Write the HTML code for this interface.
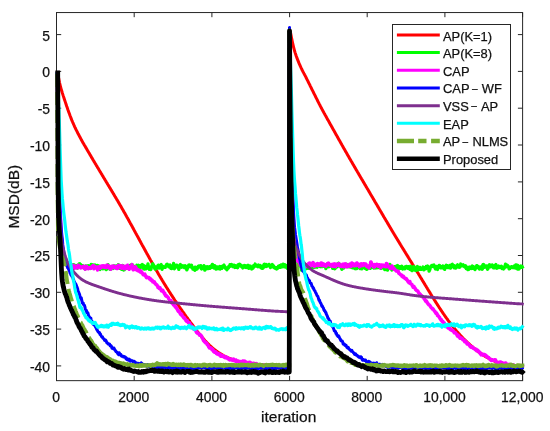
<!DOCTYPE html>
<html><head><meta charset="utf-8"><title>MSD learning curves</title>
<style>
html,body{margin:0;padding:0;background:#fff;}
svg{display:block}
text{font-family:"Liberation Sans",Arial,Helvetica,sans-serif;font-size:13.9px;fill:#111;stroke:#111;stroke-width:0.25px}
</style></head><body>
<svg width="550" height="431" viewBox="0 0 550 431">
<rect width="550" height="431" fill="#fff"/>
<g fill="none" stroke="#262626" stroke-width="1">
<rect x="56.5" y="12.55" width="466.1" height="368.1"/>
<path d="M56.5 380.6V375.9M56.5 12.55V17.2"/><path d="M134.2 380.6V375.9M134.2 12.55V17.2"/><path d="M211.9 380.6V375.9M211.9 12.55V17.2"/><path d="M289.6 380.6V375.9M289.6 12.55V17.2"/><path d="M367.2 380.6V375.9M367.2 12.55V17.2"/><path d="M444.9 380.6V375.9M444.9 12.55V17.2"/><path d="M522.6 380.6V375.9M522.6 12.55V17.2"/><path d="M56.5 365.9H61.2M522.6 365.9H517.9"/><path d="M56.5 329.1H61.2M522.6 329.1H517.9"/><path d="M56.5 292.3H61.2M522.6 292.3H517.9"/><path d="M56.5 255.5H61.2M522.6 255.5H517.9"/><path d="M56.5 218.7H61.2M522.6 218.7H517.9"/><path d="M56.5 181.9H61.2M522.6 181.9H517.9"/><path d="M56.5 145.0H61.2M522.6 145.0H517.9"/><path d="M56.5 108.2H61.2M522.6 108.2H517.9"/><path d="M56.5 71.4H61.2M522.6 71.4H517.9"/><path d="M56.5 34.6H61.2M522.6 34.6H517.9"/>
</g>
<g><text x="56.1" y="401.7" text-anchor="middle">0</text><text x="133.8" y="401.7" text-anchor="middle">2000</text><text x="211.5" y="401.7" text-anchor="middle">4000</text><text x="289.2" y="401.7" text-anchor="middle">6000</text><text x="366.8" y="401.7" text-anchor="middle">8000</text><text x="444.5" y="401.7" text-anchor="middle">10,000</text><text x="522.2" y="401.7" text-anchor="middle">12,000</text></g>
<g><text x="50" y="371.8" text-anchor="end">-40</text><text x="50" y="335.0" text-anchor="end">-35</text><text x="50" y="298.2" text-anchor="end">-30</text><text x="50" y="261.4" text-anchor="end">-25</text><text x="50" y="224.6" text-anchor="end">-20</text><text x="50" y="187.8" text-anchor="end">-15</text><text x="50" y="150.9" text-anchor="end">-10</text><text x="50" y="114.1" text-anchor="end">-5</text><text x="50" y="77.3" text-anchor="end">0</text><text x="50" y="40.5" text-anchor="end">5</text></g>
<text x="288.7" y="422" text-anchor="middle" style="font-size:15.5px">iteration</text>
<text transform="translate(19.2 196.7) rotate(-90)" text-anchor="middle" style="font-size:15.5px">MSD(dB)</text>
<g>
<path d="M57.5 74.0L57.9 75.3L58.3 76.8L58.7 78.4L59.1 80.5L59.5 82.6L59.9 84.2L60.3 85.8L60.7 87.3L61.1 88.8L61.5 90.2L61.9 91.5L62.3 92.9L62.7 94.1L63.1 95.4L63.5 96.6L63.9 97.8L64.3 99.0L64.7 100.2L65.1 101.4L65.5 102.6L65.9 103.8L66.3 105.0L66.7 106.2L67.1 107.3L67.5 108.5L67.9 109.7L68.3 110.8L68.7 111.9L69.1 113.0L69.5 114.1L69.9 115.2L70.3 116.3L70.7 117.3L71.1 118.4L71.5 119.4L71.9 120.4L72.3 121.3L72.7 122.3L73.1 123.2L73.5 124.1L73.9 125.0L74.3 125.9L74.7 126.8L75.1 127.6L75.5 128.5L75.9 129.3L76.3 130.1L76.7 130.9L77.1 131.7L77.5 132.5L77.9 133.3L78.3 134.1L78.7 134.8L79.1 135.6L79.5 136.3L79.9 137.1L80.3 137.8L80.7 138.6L81.1 139.3L81.5 140.1L81.9 140.8L82.3 141.5L82.7 142.2L83.1 142.9L83.5 143.6L83.9 144.3L84.3 145.0L84.7 145.6L85.1 146.3L85.5 147.0L85.9 147.7L86.3 148.3L86.7 149.0L87.1 149.7L87.5 150.4L87.9 151.1L88.3 151.7L88.7 152.4L89.1 153.1L89.5 153.8L89.9 154.5L90.3 155.2L90.7 155.8L91.1 156.5L91.5 157.2L91.9 157.9L92.3 158.5L92.7 159.2L93.1 159.9L93.5 160.6L93.9 161.2L94.3 161.9L94.7 162.6L95.1 163.3L95.5 163.9L95.9 164.6L96.3 165.3L96.7 165.9L97.1 166.6L97.5 167.3L97.9 167.9L98.3 168.6L98.7 169.3L99.1 170.0L99.5 170.6L99.9 171.3L100.3 171.9L100.7 172.6L101.1 173.3L101.5 173.9L101.9 174.6L102.3 175.3L102.7 175.9L103.1 176.6L103.5 177.3L103.9 177.9L104.3 178.6L104.7 179.2L105.1 179.9L105.5 180.6L105.9 181.2L106.3 181.9L106.7 182.6L107.1 183.2L107.5 183.9L107.9 184.6L108.3 185.2L108.7 185.9L109.1 186.5L109.5 187.2L109.9 187.9L110.3 188.5L110.7 189.2L111.1 189.9L111.5 190.5L111.9 191.2L112.3 191.9L112.7 192.5L113.1 193.2L113.5 193.9L113.9 194.5L114.3 195.2L114.7 195.9L115.1 196.6L115.5 197.2L115.9 197.9L116.3 198.6L116.7 199.3L117.1 199.9L117.5 200.6L117.9 201.3L118.3 202.0L118.7 202.7L119.1 203.3L119.5 204.0L119.9 204.7L120.3 205.4L120.7 206.1L121.1 206.8L121.5 207.5L121.9 208.2L122.3 208.9L122.7 209.6L123.1 210.3L123.5 211.0L123.9 211.7L124.3 212.4L124.7 213.1L125.1 213.8L125.5 214.5L125.9 215.2L126.3 215.9L126.7 216.7L127.1 217.4L127.5 218.1L127.9 218.8L128.3 219.5L128.7 220.3L129.1 221.0L129.5 221.7L129.9 222.4L130.3 223.2L130.7 223.9L131.1 224.6L131.5 225.3L131.9 226.1L132.3 226.8L132.7 227.5L133.1 228.3L133.5 229.0L133.9 229.7L134.3 230.5L134.7 231.2L135.1 231.9L135.5 232.7L135.9 233.4L136.3 234.1L136.7 234.9L137.1 235.6L137.5 236.3L137.9 237.1L138.3 237.8L138.7 238.5L139.1 239.3L139.5 240.0L139.9 240.8L140.3 241.5L140.7 242.2L141.1 243.0L141.5 243.7L141.9 244.4L142.3 245.2L142.7 245.9L143.1 246.6L143.5 247.3L143.9 248.1L144.3 248.8L144.7 249.5L145.1 250.3L145.5 251.0L145.9 251.7L146.3 252.4L146.7 253.2L147.1 253.9L147.5 254.6L147.9 255.3L148.3 256.1L148.7 256.8L149.1 257.5L149.5 258.2L149.9 258.9L150.3 259.7L150.7 260.4L151.1 261.1L151.5 261.8L151.9 262.5L152.3 263.2L152.7 263.9L153.1 264.6L153.5 265.4L153.9 266.1L154.3 266.8L154.7 267.5L155.1 268.2L155.5 268.9L155.9 269.6L156.3 270.2L156.7 270.9L157.1 271.6L157.5 272.3L157.9 273.0L158.3 273.7L158.7 274.4L159.1 275.1L159.5 275.7L159.9 276.4L160.3 277.1L160.7 277.8L161.1 278.4L161.5 279.1L161.9 279.8L162.3 280.4L162.7 281.1L163.1 281.7L163.5 282.4L163.9 283.1L164.3 283.7L164.7 284.4L165.1 285.0L165.5 285.7L165.9 286.3L166.3 286.9L166.7 287.6L167.1 288.2L167.5 288.9L167.9 289.5L168.3 290.1L168.7 290.8L169.1 291.4L169.5 292.0L169.9 292.6L170.3 293.2L170.7 293.9L171.1 294.5L171.5 295.1L171.9 295.7L172.3 296.3L172.7 296.9L173.1 297.5L173.5 298.1L173.9 298.8L174.3 299.4L174.7 300.0L175.1 300.6L175.5 301.1L175.9 301.7L176.3 302.3L176.7 302.9L177.1 303.5L177.5 304.1L177.9 304.7L178.3 305.3L178.7 305.9L179.1 306.4L179.5 307.0L179.9 307.6L180.3 308.2L180.7 308.7L181.1 309.3L181.5 309.9L181.9 310.5L182.3 311.0L182.7 311.6L183.1 312.1L183.5 312.7L183.9 313.3L184.3 313.8L184.7 314.4L185.1 314.9L185.5 315.5L185.9 316.1L186.3 316.6L186.7 317.2L187.1 317.7L187.5 318.3L187.9 318.8L188.3 319.4L188.7 319.9L189.1 320.4L189.5 321.0L189.9 321.5L190.3 322.1L190.7 322.6L191.1 323.1L191.5 323.7L191.9 324.2L192.3 324.8L192.7 325.3L193.1 325.8L193.5 326.4L193.9 326.9L194.3 327.4L194.7 327.9L195.1 328.5L195.5 329.0L195.9 329.5L196.3 330.0L196.7 330.6L197.1 331.1L197.5 331.6L197.9 332.1L198.3 332.6L198.7 333.1L199.1 333.6L199.5 334.1L199.9 334.6L200.3 335.1L200.7 335.6L201.1 336.1L201.5 336.5L201.9 337.0L202.3 337.5L202.7 337.9L203.1 338.4L203.5 338.9L203.9 339.3L204.3 339.8L204.7 340.2L205.1 340.7L205.5 341.1L205.9 341.5L206.3 341.9L206.7 342.4L207.1 342.8L207.5 343.2L207.9 343.6L208.3 344.0L208.7 344.4L209.1 344.8L209.5 345.2L209.9 345.6L210.3 345.9L210.7 346.3L211.1 346.7L211.5 347.0L211.9 347.4L212.3 347.7L212.7 348.1L213.1 348.4L213.5 348.7L213.9 349.1L214.3 349.4L214.7 349.7L215.1 350.0L215.5 350.3L215.9 350.6L216.3 350.9L216.7 351.2L217.1 351.5L217.5 351.8L217.9 352.1L218.3 352.4L218.7 352.6L219.1 352.9L219.5 353.2L219.9 353.4L220.3 353.7L220.7 353.9L221.1 354.2L221.5 354.4L221.9 354.7L222.3 354.9L222.7 355.1L223.1 355.3L223.5 355.6L223.9 355.8L224.3 356.0L224.7 356.2L225.1 356.4L225.5 356.6L225.9 356.8L226.3 357.0L226.7 357.2L227.1 357.4L227.5 357.6L227.9 357.7L228.3 357.9L228.7 358.1L229.1 358.3L229.5 358.4L229.9 358.6L230.3 358.8L230.7 358.9L231.1 359.1L231.5 359.2L231.9 359.4L232.3 359.5L232.7 359.7L233.1 359.8L233.5 360.0L233.9 360.1L234.3 360.2L234.7 360.4L235.1 360.5L235.5 360.6L235.9 360.8L236.3 360.9L236.7 361.0L237.1 361.1L237.5 361.2L237.9 361.3L238.3 361.5L238.7 361.6L239.1 361.7L239.5 361.8L239.9 361.9L240.3 362.0L240.7 362.1L241.1 362.2L241.5 362.3L241.9 362.4L242.3 362.4L242.7 362.5L243.1 362.6L243.5 362.7L243.9 362.8L244.3 362.9L244.7 362.9L245.1 363.0L245.5 363.1L245.9 363.2L246.3 363.2L246.7 363.3L247.1 363.4L247.5 363.4L247.9 363.5L248.3 363.6L248.7 363.6L249.1 363.7L249.5 363.7L249.9 363.8L250.3 363.9L250.7 363.9L251.1 364.0L251.5 364.0L251.9 364.0L252.3 364.1L252.7 364.1L253.1 364.2L253.5 364.2L253.9 364.3L254.3 364.3L254.7 364.3L255.1 364.4L255.5 364.4L255.9 364.4L256.3 364.5L256.7 364.5L257.1 364.5L257.5 364.6L257.9 364.6L258.3 364.6L258.7 364.6L259.1 364.7L259.5 364.7L259.9 364.7L260.3 364.7L260.7 364.8L261.1 364.8L261.5 364.8L261.9 364.8L262.3 364.8L262.7 364.9L263.1 364.9L263.5 364.9L263.9 364.9L264.3 364.9L264.7 365.0L265.1 365.0L265.5 365.0L265.9 365.0L266.3 365.0L266.7 365.0L267.1 365.0L267.5 365.1L267.9 365.1L268.3 365.1L268.7 365.1L269.1 365.1L269.5 365.1L269.9 365.1L270.3 365.2L270.7 365.2L271.1 365.2L271.5 365.2L271.9 365.2L272.3 365.2L272.7 365.2L273.1 365.2L273.5 365.2L273.9 365.3L274.3 365.3L274.7 365.3L275.1 365.3L275.5 365.3L275.9 365.3L276.3 365.3L276.7 365.3L277.1 365.3L277.5 365.3L277.9 365.3L278.3 365.4L278.7 365.4L279.1 365.4L279.5 365.4L279.9 365.4L280.3 365.4L280.7 365.4L281.1 365.4L281.5 365.4L281.9 365.4L282.3 365.4L282.7 365.4L283.1 365.4L283.5 365.4L283.9 365.4L284.3 365.4L284.7 365.4L285.1 365.4L285.5 365.5L285.9 365.5L286.3 365.5L286.7 365.5L287.1 365.5L287.5 365.5L287.9 365.5L288.3 365.5L288.7 365.5L289.1 365.5L289.5 365.5L289.5 30.0L289.9 30.8L290.3 31.9L290.7 33.4L291.1 35.6L291.5 37.7L291.9 39.6L292.3 41.5L292.7 43.3L293.1 45.1L293.5 46.8L293.9 48.4L294.3 49.9L294.7 51.3L295.1 52.6L295.5 53.8L295.9 55.0L296.3 56.2L296.7 57.3L297.1 58.4L297.5 59.4L297.9 60.4L298.3 61.4L298.7 62.4L299.1 63.4L299.5 64.3L299.9 65.2L300.3 66.1L300.7 67.0L301.1 67.9L301.5 68.7L301.9 69.5L302.3 70.3L302.7 71.1L303.1 71.9L303.5 72.6L303.9 73.4L304.3 74.1L304.7 74.9L305.1 75.6L305.5 76.4L305.9 77.2L306.3 78.0L306.7 78.8L307.1 79.6L307.5 80.4L307.9 81.2L308.3 82.0L308.7 82.8L309.1 83.6L309.5 84.4L309.9 85.2L310.3 86.1L310.7 86.9L311.1 87.7L311.5 88.5L311.9 89.3L312.3 90.1L312.7 90.9L313.1 91.7L313.5 92.5L313.9 93.3L314.3 94.1L314.7 94.9L315.1 95.7L315.5 96.5L315.9 97.3L316.3 98.1L316.7 98.9L317.1 99.7L317.5 100.5L317.9 101.3L318.3 102.1L318.7 102.9L319.1 103.7L319.5 104.4L319.9 105.2L320.3 106.0L320.7 106.7L321.1 107.5L321.5 108.2L321.9 109.0L322.3 109.7L322.7 110.5L323.1 111.2L323.5 111.9L323.9 112.7L324.3 113.4L324.7 114.1L325.1 114.9L325.5 115.6L325.9 116.3L326.3 117.0L326.7 117.7L327.1 118.5L327.5 119.2L327.9 119.9L328.3 120.6L328.7 121.3L329.1 122.0L329.5 122.8L329.9 123.5L330.3 124.2L330.7 124.9L331.1 125.6L331.5 126.3L331.9 127.1L332.3 127.8L332.7 128.5L333.1 129.2L333.5 129.9L333.9 130.6L334.3 131.3L334.7 132.1L335.1 132.8L335.5 133.5L335.9 134.2L336.3 134.9L336.7 135.6L337.1 136.3L337.5 137.1L337.9 137.8L338.3 138.5L338.7 139.2L339.1 139.9L339.5 140.6L339.9 141.3L340.3 142.0L340.7 142.7L341.1 143.4L341.5 144.1L341.9 144.9L342.3 145.6L342.7 146.3L343.1 147.0L343.5 147.7L343.9 148.4L344.3 149.1L344.7 149.8L345.1 150.5L345.5 151.2L345.9 151.9L346.3 152.6L346.7 153.3L347.1 154.0L347.5 154.7L347.9 155.4L348.3 156.1L348.7 156.8L349.1 157.5L349.5 158.2L349.9 158.9L350.3 159.6L350.7 160.3L351.1 161.0L351.5 161.6L351.9 162.3L352.3 163.0L352.7 163.7L353.1 164.4L353.5 165.1L353.9 165.8L354.3 166.5L354.7 167.2L355.1 167.8L355.5 168.5L355.9 169.2L356.3 169.9L356.7 170.6L357.1 171.3L357.5 172.0L357.9 172.6L358.3 173.3L358.7 174.0L359.1 174.7L359.5 175.4L359.9 176.0L360.3 176.7L360.7 177.4L361.1 178.1L361.5 178.8L361.9 179.4L362.3 180.1L362.7 180.8L363.1 181.5L363.5 182.2L363.9 182.8L364.3 183.5L364.7 184.2L365.1 184.9L365.5 185.5L365.9 186.2L366.3 186.9L366.7 187.6L367.1 188.3L367.5 188.9L367.9 189.6L368.3 190.3L368.7 191.0L369.1 191.7L369.5 192.3L369.9 193.0L370.3 193.7L370.7 194.4L371.1 195.1L371.5 195.7L371.9 196.4L372.3 197.1L372.7 197.8L373.1 198.5L373.5 199.2L373.9 199.8L374.3 200.5L374.7 201.2L375.1 201.9L375.5 202.6L375.9 203.2L376.3 203.9L376.7 204.6L377.1 205.3L377.5 206.0L377.9 206.7L378.3 207.3L378.7 208.0L379.1 208.7L379.5 209.4L379.9 210.1L380.3 210.7L380.7 211.4L381.1 212.1L381.5 212.8L381.9 213.5L382.3 214.2L382.7 214.8L383.1 215.5L383.5 216.2L383.9 216.9L384.3 217.6L384.7 218.2L385.1 218.9L385.5 219.6L385.9 220.3L386.3 220.9L386.7 221.6L387.1 222.3L387.5 223.0L387.9 223.7L388.3 224.3L388.7 225.0L389.1 225.7L389.5 226.4L389.9 227.0L390.3 227.7L390.7 228.4L391.1 229.0L391.5 229.7L391.9 230.4L392.3 231.1L392.7 231.7L393.1 232.4L393.5 233.1L393.9 233.7L394.3 234.4L394.7 235.1L395.1 235.7L395.5 236.4L395.9 237.1L396.3 237.7L396.7 238.4L397.1 239.0L397.5 239.7L397.9 240.4L398.3 241.0L398.7 241.7L399.1 242.3L399.5 243.0L399.9 243.7L400.3 244.3L400.7 245.0L401.1 245.6L401.5 246.3L401.9 246.9L402.3 247.6L402.7 248.2L403.1 248.9L403.5 249.5L403.9 250.2L404.3 250.8L404.7 251.5L405.1 252.1L405.5 252.8L405.9 253.4L406.3 254.1L406.7 254.7L407.1 255.4L407.5 256.0L407.9 256.7L408.3 257.3L408.7 258.0L409.1 258.6L409.5 259.3L409.9 259.9L410.3 260.6L410.7 261.2L411.1 261.9L411.5 262.5L411.9 263.2L412.3 263.8L412.7 264.5L413.1 265.1L413.5 265.8L413.9 266.4L414.3 267.1L414.7 267.7L415.1 268.4L415.5 269.0L415.9 269.7L416.3 270.3L416.7 271.0L417.1 271.6L417.5 272.3L417.9 272.9L418.3 273.6L418.7 274.3L419.1 274.9L419.5 275.6L419.9 276.2L420.3 276.9L420.7 277.6L421.1 278.2L421.5 278.9L421.9 279.5L422.3 280.2L422.7 280.9L423.1 281.5L423.5 282.2L423.9 282.8L424.3 283.5L424.7 284.2L425.1 284.8L425.5 285.5L425.9 286.1L426.3 286.8L426.7 287.4L427.1 288.1L427.5 288.8L427.9 289.4L428.3 290.1L428.7 290.7L429.1 291.4L429.5 292.0L429.9 292.7L430.3 293.3L430.7 294.0L431.1 294.6L431.5 295.3L431.9 295.9L432.3 296.6L432.7 297.2L433.1 297.8L433.5 298.5L433.9 299.1L434.3 299.8L434.7 300.4L435.1 301.0L435.5 301.7L435.9 302.3L436.3 302.9L436.7 303.5L437.1 304.2L437.5 304.8L437.9 305.4L438.3 306.0L438.7 306.6L439.1 307.3L439.5 307.9L439.9 308.5L440.3 309.1L440.7 309.7L441.1 310.3L441.5 310.9L441.9 311.5L442.3 312.1L442.7 312.7L443.1 313.3L443.5 313.9L443.9 314.4L444.3 315.0L444.7 315.6L445.1 316.2L445.5 316.7L445.9 317.3L446.3 317.9L446.7 318.4L447.1 319.0L447.5 319.5L447.9 320.1L448.3 320.6L448.7 321.2L449.1 321.7L449.5 322.2L449.9 322.8L450.3 323.3L450.7 323.8L451.1 324.3L451.5 324.8L451.9 325.3L452.3 325.9L452.7 326.4L453.1 326.9L453.5 327.3L453.9 327.8L454.3 328.3L454.7 328.8L455.1 329.3L455.5 329.8L455.9 330.2L456.3 330.7L456.7 331.2L457.1 331.6L457.5 332.1L457.9 332.5L458.3 333.0L458.7 333.4L459.1 333.9L459.5 334.3L459.9 334.8L460.3 335.2L460.7 335.6L461.1 336.1L461.5 336.5L461.9 336.9L462.3 337.3L462.7 337.7L463.1 338.2L463.5 338.6L463.9 339.0L464.3 339.4L464.7 339.8L465.1 340.2L465.5 340.6L465.9 341.0L466.3 341.3L466.7 341.7L467.1 342.1L467.5 342.5L467.9 342.9L468.3 343.2L468.7 343.6L469.1 344.0L469.5 344.3L469.9 344.7L470.3 345.1L470.7 345.4L471.1 345.8L471.5 346.1L471.9 346.5L472.3 346.8L472.7 347.2L473.1 347.5L473.5 347.8L473.9 348.2L474.3 348.5L474.7 348.8L475.1 349.2L475.5 349.5L475.9 349.8L476.3 350.1L476.7 350.4L477.1 350.7L477.5 351.1L477.9 351.4L478.3 351.7L478.7 352.0L479.1 352.2L479.5 352.5L479.9 352.8L480.3 353.1L480.7 353.4L481.1 353.7L481.5 353.9L481.9 354.2L482.3 354.5L482.7 354.7L483.1 355.0L483.5 355.3L483.9 355.5L484.3 355.8L484.7 356.0L485.1 356.3L485.5 356.5L485.9 356.8L486.3 357.0L486.7 357.2L487.1 357.5L487.5 357.7L487.9 357.9L488.3 358.1L488.7 358.4L489.1 358.6L489.5 358.8L489.9 359.0L490.3 359.2L490.7 359.4L491.1 359.6L491.5 359.8L491.9 360.0L492.3 360.2L492.7 360.4L493.1 360.5L493.5 360.7L493.9 360.9L494.3 361.1L494.7 361.2L495.1 361.4L495.5 361.6L495.9 361.7L496.3 361.9L496.7 362.0L497.1 362.2L497.5 362.3L497.9 362.5L498.3 362.6L498.7 362.8L499.1 362.9L499.5 363.0L499.9 363.2L500.3 363.3L500.7 363.4L501.1 363.5L501.5 363.6L501.9 363.8L502.3 363.9L502.7 364.0L503.1 364.1L503.5 364.2L503.9 364.3L504.3 364.4L504.7 364.5L505.1 364.6L505.5 364.6L505.9 364.7L506.3 364.8L506.7 364.9L507.1 365.0L507.5 365.0L507.9 365.1L508.3 365.2L508.7 365.2L509.1 365.3L509.5 365.4L509.9 365.4L510.3 365.5L510.7 365.5L511.1 365.6L511.5 365.6L511.9 365.7L512.3 365.7L512.7 365.8L513.1 365.8L513.5 365.9L513.9 365.9L514.3 365.9L514.7 366.0L515.1 366.0L515.5 366.0L515.9 366.1L516.3 366.1L516.7 366.1L517.1 366.1L517.5 366.2L517.9 366.2L518.3 366.2L518.7 366.2L519.1 366.3L519.5 366.3L519.9 366.3L520.3 366.3L520.7 366.3L521.1 366.3L521.5 366.3L521.9 366.4L522.3 366.4" fill="none" stroke="#ff0000" stroke-width="3.0" stroke-linejoin="round" stroke-linecap="square"/>
<path d="M57.2 74.0L57.6 116.7L58.0 149.9L58.4 170.0L58.8 185.4L59.2 199.0L59.6 210.6L60.0 220.4L60.4 227.5L60.8 234.4L61.2 238.7L61.6 243.7L62.0 250.4L62.4 251.3L62.8 254.9L63.2 258.3L63.6 260.1L64.0 261.0L64.4 262.5L64.8 263.7L65.2 264.6L65.6 263.5L66.0 264.9L66.4 264.9L66.8 265.4L67.2 266.3L67.6 267.1L68.0 267.8L68.4 266.6L68.8 267.6L69.2 268.3L69.6 268.7L70.0 269.2L70.4 267.7L70.8 267.0L71.2 267.7L71.6 265.8L72.0 266.6L72.4 266.1L72.8 266.0L73.2 264.6L73.6 264.7L74.0 265.5L74.4 267.0L74.8 267.8L75.2 267.1L75.6 266.5L76.0 265.5L76.4 266.3L76.8 266.0L77.2 266.8L77.6 268.2L78.0 267.2L78.4 265.1L78.8 264.6L79.2 263.9L79.6 263.8L80.0 266.2L80.4 266.5L80.8 264.7L81.2 266.1L81.6 267.4L82.0 266.5L82.4 265.7L82.8 265.7L83.2 266.2L83.6 267.0L84.0 267.8L84.4 268.3L84.8 268.7L85.2 269.0L85.6 268.4L86.0 266.0L86.4 266.2L86.8 266.7L87.2 266.3L87.6 267.3L88.0 266.6L88.4 265.8L88.8 267.7L89.2 267.8L89.6 267.5L90.0 268.0L90.4 268.4L90.8 267.9L91.2 264.5L91.6 264.8L92.0 265.1L92.4 264.7L92.8 265.8L93.2 267.3L93.6 266.4L94.0 265.2L94.4 267.9L94.8 266.5L95.2 265.0L95.6 265.9L96.0 266.4L96.4 265.6L96.8 266.8L97.2 266.1L97.6 265.4L98.0 266.1L98.4 267.0L98.8 266.1L99.2 266.6L99.6 266.5L100.0 269.5L100.4 267.3L100.8 268.5L101.2 267.6L101.6 267.1L102.0 267.7L102.4 268.2L102.8 268.8L103.2 268.2L103.6 266.9L104.0 266.4L104.4 267.2L104.8 267.8L105.2 268.8L105.6 268.3L106.0 268.9L106.4 269.6L106.8 268.4L107.2 266.1L107.6 265.3L108.0 264.7L108.4 267.6L108.8 266.5L109.2 268.0L109.6 268.2L110.0 269.4L110.4 269.4L110.8 268.2L111.2 267.5L111.6 267.5L112.0 267.4L112.4 266.7L112.8 266.9L113.2 268.5L113.6 266.0L114.0 266.8L114.4 265.9L114.8 266.6L115.2 267.7L115.6 267.3L116.0 268.0L116.4 266.0L116.8 267.7L117.2 266.8L117.6 267.6L118.0 267.6L118.4 264.7L118.8 265.1L119.2 266.4L119.6 268.4L120.0 268.1L120.4 267.9L120.8 266.1L121.2 268.0L121.6 269.4L122.0 268.2L122.4 267.4L122.8 265.5L123.2 267.1L123.6 270.0L124.0 269.4L124.4 269.6L124.8 268.9L125.2 267.2L125.6 268.7L126.0 266.7L126.4 266.8L126.8 267.4L127.2 268.4L127.6 268.3L128.0 268.4L128.4 267.1L128.8 266.0L129.2 266.7L129.6 266.5L130.0 265.6L130.4 265.2L130.8 265.9L131.2 264.9L131.6 264.8L132.0 264.4L132.4 266.0L132.8 267.1L133.2 269.3L133.6 266.8L134.0 266.3L134.4 267.7L134.8 267.2L135.2 266.9L135.6 268.9L136.0 267.6L136.4 266.2L136.8 265.3L137.2 266.6L137.6 267.1L138.0 265.7L138.4 265.3L138.8 266.7L139.2 267.5L139.6 266.6L140.0 267.5L140.4 267.8L140.8 265.5L141.2 265.9L141.6 266.9L142.0 266.3L142.4 264.5L142.8 265.5L143.2 267.0L143.6 268.6L144.0 265.6L144.4 269.2L144.8 266.9L145.2 267.9L145.6 268.7L146.0 268.8L146.4 267.9L146.8 266.2L147.2 267.1L147.6 266.1L148.0 263.8L148.4 268.2L148.8 268.1L149.2 269.3L149.6 267.1L150.0 268.5L150.4 269.3L150.8 269.6L151.2 268.2L151.6 266.3L152.0 266.3L152.4 264.3L152.8 263.8L153.2 265.4L153.6 265.2L154.0 266.0L154.4 266.4L154.8 268.7L155.2 269.1L155.6 268.0L156.0 268.7L156.4 267.2L156.8 266.8L157.2 267.8L157.6 266.0L158.0 266.2L158.4 265.1L158.8 266.0L159.2 268.1L159.6 266.7L160.0 267.0L160.4 265.9L160.8 265.2L161.2 264.6L161.6 267.2L162.0 269.3L162.4 268.4L162.8 266.8L163.2 267.3L163.6 266.6L164.0 267.4L164.4 267.3L164.8 267.2L165.2 267.4L165.6 266.4L166.0 266.2L166.4 264.6L166.8 265.1L167.2 264.3L167.6 265.3L168.0 265.0L168.4 266.0L168.8 266.9L169.2 265.3L169.6 265.2L170.0 265.0L170.4 266.7L170.8 268.4L171.2 268.5L171.6 267.3L172.0 268.5L172.4 266.0L172.8 267.9L173.2 266.5L173.6 263.5L174.0 267.8L174.4 268.8L174.8 266.6L175.2 266.9L175.6 266.6L176.0 266.7L176.4 265.1L176.8 265.1L177.2 266.3L177.6 266.6L178.0 267.8L178.4 267.2L178.8 269.4L179.2 267.3L179.6 267.3L180.0 265.1L180.4 264.6L180.8 267.2L181.2 266.1L181.6 267.2L182.0 267.0L182.4 265.8L182.8 265.9L183.2 265.8L183.6 265.8L184.0 267.2L184.4 267.7L184.8 266.7L185.2 265.8L185.6 266.6L186.0 266.5L186.4 267.7L186.8 269.9L187.2 269.1L187.6 267.8L188.0 267.0L188.4 265.8L188.8 265.1L189.2 264.9L189.6 265.2L190.0 265.5L190.4 266.9L190.8 266.3L191.2 266.2L191.6 265.2L192.0 267.7L192.4 267.7L192.8 269.0L193.2 268.7L193.6 269.3L194.0 267.9L194.4 268.1L194.8 270.3L195.2 267.2L195.6 268.4L196.0 269.4L196.4 268.4L196.8 268.4L197.2 268.9L197.6 267.2L198.0 267.4L198.4 266.2L198.8 265.8L199.2 265.8L199.6 266.2L200.0 266.8L200.4 267.4L200.8 265.7L201.2 268.5L201.6 269.0L202.0 268.7L202.4 267.6L202.8 267.1L203.2 267.7L203.6 267.9L204.0 265.7L204.4 267.1L204.8 270.2L205.2 266.6L205.6 268.0L206.0 267.9L206.4 267.5L206.8 268.7L207.2 266.7L207.6 267.0L208.0 268.6L208.4 267.6L208.8 266.9L209.2 267.2L209.6 266.7L210.0 268.4L210.4 266.7L210.8 267.7L211.2 266.0L211.6 267.4L212.0 267.1L212.4 264.3L212.8 265.7L213.2 265.2L213.6 265.7L214.0 268.1L214.4 266.4L214.8 265.7L215.2 267.9L215.6 267.7L216.0 269.1L216.4 268.6L216.8 266.9L217.2 266.9L217.6 268.3L218.0 268.7L218.4 268.0L218.8 267.5L219.2 267.2L219.6 266.6L220.0 269.0L220.4 268.1L220.8 266.6L221.2 266.4L221.6 267.7L222.0 268.3L222.4 267.8L222.8 266.8L223.2 267.2L223.6 265.5L224.0 265.1L224.4 267.0L224.8 266.5L225.2 267.2L225.6 268.4L226.0 268.5L226.4 267.7L226.8 269.8L227.2 269.2L227.6 267.8L228.0 268.2L228.4 268.0L228.8 266.5L229.2 266.8L229.6 266.6L230.0 264.7L230.4 265.5L230.8 265.8L231.2 265.8L231.6 264.5L232.0 265.3L232.4 266.1L232.8 266.6L233.2 265.4L233.6 266.6L234.0 265.2L234.4 265.7L234.8 267.5L235.2 266.3L235.6 265.8L236.0 267.3L236.4 266.6L236.8 266.3L237.2 266.6L237.6 267.7L238.0 264.8L238.4 264.7L238.8 264.5L239.2 264.2L239.6 264.3L240.0 264.4L240.4 265.9L240.8 265.2L241.2 266.0L241.6 266.7L242.0 265.7L242.4 266.2L242.8 268.0L243.2 267.5L243.6 266.4L244.0 266.3L244.4 265.4L244.8 266.2L245.2 267.2L245.6 266.0L246.0 266.0L246.4 267.5L246.8 266.5L247.2 266.8L247.6 265.5L248.0 265.2L248.4 265.5L248.8 268.4L249.2 267.3L249.6 266.4L250.0 266.0L250.4 266.1L250.8 267.1L251.2 267.1L251.6 269.0L252.0 268.1L252.4 268.7L252.8 267.9L253.2 267.9L253.6 265.7L254.0 265.9L254.4 266.2L254.8 266.1L255.2 264.0L255.6 266.1L256.0 265.9L256.4 265.9L256.8 266.0L257.2 266.1L257.6 266.7L258.0 265.4L258.4 265.0L258.8 266.2L259.2 266.7L259.6 266.4L260.0 266.0L260.4 265.6L260.8 266.3L261.2 267.8L261.6 266.3L262.0 268.2L262.4 268.4L262.8 267.2L263.2 267.9L263.6 265.8L264.0 264.4L264.4 264.2L264.8 265.1L265.2 265.7L265.6 265.8L266.0 266.6L266.4 264.5L266.8 266.3L267.2 265.2L267.6 265.3L268.0 265.6L268.4 265.0L268.8 264.5L269.2 264.5L269.6 265.7L270.0 266.8L270.4 267.5L270.8 266.1L271.2 265.6L271.6 265.3L272.0 266.5L272.4 264.5L272.8 266.9L273.2 266.4L273.6 265.8L274.0 266.8L274.4 267.8L274.8 267.6L275.2 268.3L275.6 267.7L276.0 268.5L276.4 268.9L276.8 267.7L277.2 268.8L277.6 267.9L278.0 267.5L278.4 266.2L278.8 266.2L279.2 267.4L279.6 265.7L280.0 267.0L280.4 267.3L280.8 267.3L281.2 264.8L281.6 265.6L282.0 266.9L282.4 266.0L282.8 266.5L283.2 264.1L283.6 265.9L284.0 265.5L284.4 266.8L284.8 264.7L285.2 266.3L285.6 266.2L286.0 267.2L286.4 265.8L286.8 265.5L287.2 268.3L287.6 266.5L288.0 265.6L288.4 266.1L288.8 266.2L289.2 266.8L289.5 30.0L289.9 68.6L290.3 103.2L290.7 133.2L291.1 156.0L291.5 173.6L291.9 188.2L292.3 200.9L292.7 214.2L293.1 222.2L293.5 229.4L293.9 237.9L294.3 244.0L294.7 248.5L295.1 251.1L295.5 256.6L295.9 258.5L296.3 260.5L296.7 261.4L297.1 260.9L297.5 261.1L297.9 263.5L298.3 265.1L298.7 265.5L299.1 264.8L299.5 264.3L299.9 265.2L300.3 264.5L300.7 266.6L301.1 267.9L301.5 270.2L301.9 269.5L302.3 267.5L302.7 266.3L303.1 263.0L303.5 264.3L303.9 265.4L304.3 267.1L304.7 267.4L305.1 267.7L305.5 267.4L305.9 267.6L306.3 268.6L306.7 266.5L307.1 266.1L307.5 264.9L307.9 267.3L308.3 268.3L308.7 268.1L309.1 266.0L309.5 266.4L309.9 266.2L310.3 266.5L310.7 266.4L311.1 267.1L311.5 266.5L311.9 267.5L312.3 267.4L312.7 266.8L313.1 266.6L313.5 266.3L313.9 267.4L314.3 266.9L314.7 267.2L315.1 266.6L315.5 265.1L315.9 267.0L316.3 265.9L316.7 267.0L317.1 267.3L317.5 265.3L317.9 265.0L318.3 265.1L318.7 264.9L319.1 264.4L319.5 266.2L319.9 266.1L320.3 266.7L320.7 266.2L321.1 266.5L321.5 265.6L321.9 265.9L322.3 266.6L322.7 266.4L323.1 265.8L323.5 264.9L323.9 265.6L324.3 266.2L324.7 266.0L325.1 265.2L325.5 266.1L325.9 268.7L326.3 267.1L326.7 267.0L327.1 266.9L327.5 263.9L327.9 265.1L328.3 264.8L328.7 266.8L329.1 266.2L329.5 265.4L329.9 265.5L330.3 266.0L330.7 265.6L331.1 265.9L331.5 264.7L331.9 265.2L332.3 266.4L332.7 268.4L333.1 267.9L333.5 267.3L333.9 267.9L334.3 268.0L334.7 268.8L335.1 268.6L335.5 267.1L335.9 266.9L336.3 266.8L336.7 266.9L337.1 266.8L337.5 265.8L337.9 264.0L338.3 264.4L338.7 263.3L339.1 264.9L339.5 265.7L339.9 264.3L340.3 266.2L340.7 267.2L341.1 266.9L341.5 268.4L341.9 269.3L342.3 266.6L342.7 267.6L343.1 267.4L343.5 267.4L343.9 267.9L344.3 266.3L344.7 265.8L345.1 265.2L345.5 265.1L345.9 265.6L346.3 264.5L346.7 264.4L347.1 266.0L347.5 266.2L347.9 266.8L348.3 264.6L348.7 264.7L349.1 265.0L349.5 265.7L349.9 265.4L350.3 267.0L350.7 266.7L351.1 266.7L351.5 266.7L351.9 267.4L352.3 266.6L352.7 267.9L353.1 267.9L353.5 267.5L353.9 267.3L354.3 267.6L354.7 268.4L355.1 268.7L355.5 268.2L355.9 268.4L356.3 267.8L356.7 268.6L357.1 267.7L357.5 265.1L357.9 267.3L358.3 267.2L358.7 265.9L359.1 266.2L359.5 265.8L359.9 268.6L360.3 268.5L360.7 266.3L361.1 267.4L361.5 266.9L361.9 268.9L362.3 266.9L362.7 264.7L363.1 266.1L363.5 266.2L363.9 266.3L364.3 264.6L364.7 266.4L365.1 268.4L365.5 265.8L365.9 267.6L366.3 266.8L366.7 269.4L367.1 268.6L367.5 267.7L367.9 268.6L368.3 268.5L368.7 267.3L369.1 268.1L369.5 267.2L369.9 265.3L370.3 268.3L370.7 267.4L371.1 266.7L371.5 267.3L371.9 265.6L372.3 265.0L372.7 265.6L373.1 265.8L373.5 266.5L373.9 268.1L374.3 267.2L374.7 267.7L375.1 268.0L375.5 266.4L375.9 267.0L376.3 266.2L376.7 267.8L377.1 267.9L377.5 267.5L377.9 265.9L378.3 266.7L378.7 266.1L379.1 267.6L379.5 267.3L379.9 266.4L380.3 267.9L380.7 268.3L381.1 267.1L381.5 268.3L381.9 267.4L382.3 267.0L382.7 267.2L383.1 266.4L383.5 266.4L383.9 266.7L384.3 268.6L384.7 269.5L385.1 268.1L385.5 269.5L385.9 268.4L386.3 268.3L386.7 268.7L387.1 268.2L387.5 270.2L387.9 269.0L388.3 266.9L388.7 268.5L389.1 267.5L389.5 267.2L389.9 264.3L390.3 267.0L390.7 268.1L391.1 268.6L391.5 269.1L391.9 270.0L392.3 268.7L392.7 269.1L393.1 267.5L393.5 267.2L393.9 268.5L394.3 268.4L394.7 266.6L395.1 267.4L395.5 267.2L395.9 266.5L396.3 267.5L396.7 267.2L397.1 265.8L397.5 265.5L397.9 268.3L398.3 266.3L398.7 267.1L399.1 267.9L399.5 268.4L399.9 266.7L400.3 266.9L400.7 267.4L401.1 268.4L401.5 267.4L401.9 266.3L402.3 268.1L402.7 269.0L403.1 268.8L403.5 267.8L403.9 268.2L404.3 268.1L404.7 268.8L405.1 266.9L405.5 267.5L405.9 267.4L406.3 266.4L406.7 267.4L407.1 267.8L407.5 267.4L407.9 268.2L408.3 266.6L408.7 267.3L409.1 268.1L409.5 268.4L409.9 269.4L410.3 267.6L410.7 266.3L411.1 267.5L411.5 268.4L411.9 270.6L412.3 270.1L412.7 268.4L413.1 269.2L413.5 267.9L413.9 266.5L414.3 270.1L414.7 269.4L415.1 269.5L415.5 269.4L415.9 270.5L416.3 269.5L416.7 270.1L417.1 268.0L417.5 266.5L417.9 268.8L418.3 269.8L418.7 269.3L419.1 268.7L419.5 268.4L419.9 267.4L420.3 269.3L420.7 269.3L421.1 269.0L421.5 268.7L421.9 269.2L422.3 268.9L422.7 268.9L423.1 267.0L423.5 267.8L423.9 269.9L424.3 268.2L424.7 267.7L425.1 268.4L425.5 268.8L425.9 268.8L426.3 266.5L426.7 267.4L427.1 266.3L427.5 266.0L427.9 267.4L428.3 267.2L428.7 268.2L429.1 271.2L429.5 270.1L429.9 269.5L430.3 267.4L430.7 266.7L431.1 265.9L431.5 266.1L431.9 265.5L432.3 265.8L432.7 266.4L433.1 265.8L433.5 265.1L433.9 264.9L434.3 266.7L434.7 267.0L435.1 268.2L435.5 268.9L435.9 267.8L436.3 268.4L436.7 266.3L437.1 269.2L437.5 269.5L437.9 268.3L438.3 266.6L438.7 267.5L439.1 265.5L439.5 265.5L439.9 267.1L440.3 267.2L440.7 266.6L441.1 267.9L441.5 266.6L441.9 267.3L442.3 266.7L442.7 266.1L443.1 267.1L443.5 266.2L443.9 268.7L444.3 267.4L444.7 269.4L445.1 267.1L445.5 267.7L445.9 266.1L446.3 265.2L446.7 266.3L447.1 267.3L447.5 265.8L447.9 267.7L448.3 266.5L448.7 266.8L449.1 267.3L449.5 267.7L449.9 265.4L450.3 267.8L450.7 268.1L451.1 267.0L451.5 265.9L451.9 264.6L452.3 264.3L452.7 266.2L453.1 266.1L453.5 265.4L453.9 265.6L454.3 267.9L454.7 267.0L455.1 266.4L455.5 268.0L455.9 268.0L456.3 267.5L456.7 266.6L457.1 265.2L457.5 264.8L457.9 265.3L458.3 265.8L458.7 266.7L459.1 267.3L459.5 267.2L459.9 267.2L460.3 265.9L460.7 264.0L461.1 264.9L461.5 264.8L461.9 265.1L462.3 265.7L462.7 265.0L463.1 264.7L463.5 265.8L463.9 266.4L464.3 266.0L464.7 267.0L465.1 266.7L465.5 265.7L465.9 266.3L466.3 268.7L466.7 267.1L467.1 268.3L467.5 269.1L467.9 269.6L468.3 267.4L468.7 269.3L469.1 268.3L469.5 267.4L469.9 267.0L470.3 267.8L470.7 267.5L471.1 267.2L471.5 268.5L471.9 267.0L472.3 266.0L472.7 267.4L473.1 268.0L473.5 268.6L473.9 266.8L474.3 268.3L474.7 268.2L475.1 269.6L475.5 267.1L475.9 267.5L476.3 267.2L476.7 265.6L477.1 265.7L477.5 267.7L477.9 267.0L478.3 266.4L478.7 267.7L479.1 268.6L479.5 269.0L479.9 267.4L480.3 267.3L480.7 268.5L481.1 267.2L481.5 266.5L481.9 267.8L482.3 269.2L482.7 267.1L483.1 264.6L483.5 264.4L483.9 264.8L484.3 265.8L484.7 267.2L485.1 267.0L485.5 266.3L485.9 266.7L486.3 266.0L486.7 266.4L487.1 266.0L487.5 269.3L487.9 268.8L488.3 266.9L488.7 265.9L489.1 265.9L489.5 264.7L489.9 265.0L490.3 265.2L490.7 266.9L491.1 266.5L491.5 266.0L491.9 265.2L492.3 264.9L492.7 265.9L493.1 266.2L493.5 267.9L493.9 266.7L494.3 267.9L494.7 267.7L495.1 267.3L495.5 265.1L495.9 264.6L496.3 266.5L496.7 268.2L497.1 267.7L497.5 268.0L497.9 267.0L498.3 266.7L498.7 266.1L499.1 267.4L499.5 267.5L499.9 267.1L500.3 266.7L500.7 267.2L501.1 267.5L501.5 266.3L501.9 268.5L502.3 268.0L502.7 267.5L503.1 268.7L503.5 269.0L503.9 268.0L504.3 268.0L504.7 266.3L505.1 266.1L505.5 264.2L505.9 266.8L506.3 264.9L506.7 266.6L507.1 265.9L507.5 265.3L507.9 265.9L508.3 266.6L508.7 267.4L509.1 268.9L509.5 268.2L509.9 268.4L510.3 267.1L510.7 267.7L511.1 267.5L511.5 266.7L511.9 266.8L512.3 266.9L512.7 267.2L513.1 267.7L513.5 267.0L513.9 266.4L514.3 267.6L514.7 265.7L515.1 265.9L515.5 268.2L515.9 264.8L516.3 265.2L516.7 266.9L517.1 265.3L517.5 269.0L517.9 265.3L518.3 267.8L518.7 269.1L519.1 269.1L519.5 267.9L519.9 267.9L520.3 266.5L520.7 267.5L521.1 266.0L521.5 266.4L521.9 267.2L522.3 267.0" fill="none" stroke="#00ff00" stroke-width="3.3" stroke-linejoin="round" stroke-linecap="square"/>
<path d="M57.2 74.0L57.6 100.8L58.0 124.6L58.4 145.7L58.8 162.3L59.2 178.7L59.6 193.2L60.0 204.9L60.4 216.5L60.8 226.0L61.2 233.0L61.6 240.5L62.0 247.6L62.4 251.0L62.8 253.9L63.2 254.0L63.6 256.6L64.0 258.4L64.4 258.3L64.8 260.9L65.2 263.0L65.6 263.1L66.0 263.7L66.4 263.7L66.8 265.3L67.2 264.2L67.6 264.9L68.0 267.5L68.4 267.2L68.8 267.5L69.2 267.2L69.6 266.2L70.0 266.7L70.4 267.3L70.8 266.4L71.2 267.2L71.6 268.3L72.0 268.8L72.4 266.6L72.8 266.1L73.2 265.3L73.6 267.4L74.0 267.9L74.4 268.3L74.8 267.0L75.2 266.2L75.6 266.8L76.0 267.2L76.4 266.5L76.8 267.2L77.2 267.9L77.6 267.8L78.0 266.7L78.4 265.2L78.8 266.1L79.2 267.0L79.6 267.1L80.0 267.0L80.4 266.7L80.8 267.9L81.2 267.7L81.6 267.8L82.0 266.9L82.4 266.7L82.8 267.3L83.2 266.6L83.6 266.1L84.0 266.5L84.4 268.2L84.8 268.0L85.2 269.2L85.6 268.3L86.0 267.7L86.4 266.4L86.8 266.5L87.2 268.4L87.6 268.3L88.0 268.6L88.4 268.7L88.8 268.1L89.2 267.7L89.6 267.7L90.0 268.3L90.4 268.2L90.8 268.2L91.2 267.8L91.6 266.8L92.0 266.8L92.4 266.2L92.8 267.6L93.2 265.5L93.6 266.2L94.0 268.8L94.4 267.6L94.8 266.4L95.2 266.7L95.6 268.0L96.0 267.5L96.4 267.9L96.8 267.6L97.2 267.0L97.6 270.0L98.0 268.7L98.4 267.4L98.8 266.9L99.2 267.4L99.6 267.8L100.0 268.3L100.4 268.0L100.8 266.3L101.2 267.3L101.6 267.1L102.0 267.0L102.4 265.9L102.8 266.3L103.2 266.2L103.6 266.9L104.0 265.9L104.4 266.7L104.8 267.3L105.2 266.5L105.6 266.4L106.0 266.2L106.4 267.6L106.8 265.2L107.2 266.0L107.6 265.2L108.0 265.9L108.4 267.4L108.8 266.8L109.2 267.2L109.6 266.6L110.0 268.8L110.4 268.9L110.8 269.1L111.2 267.1L111.6 266.2L112.0 267.8L112.4 267.3L112.8 267.0L113.2 267.3L113.6 266.0L114.0 267.3L114.4 267.2L114.8 267.6L115.2 266.8L115.6 267.5L116.0 266.7L116.4 267.8L116.8 268.5L117.2 268.6L117.6 268.3L118.0 268.3L118.4 265.2L118.8 266.9L119.2 266.7L119.6 267.0L120.0 266.8L120.4 265.7L120.8 265.9L121.2 266.9L121.6 268.1L122.0 266.8L122.4 265.8L122.8 267.6L123.2 266.4L123.6 268.4L124.0 267.6L124.4 266.4L124.8 267.4L125.2 268.7L125.6 266.3L126.0 267.9L126.4 266.9L126.8 268.0L127.2 267.0L127.6 265.3L128.0 266.3L128.4 267.2L128.8 268.8L129.2 269.2L129.6 268.6L130.0 267.5L130.4 266.7L130.8 266.5L131.2 266.1L131.6 266.4L132.0 264.6L132.4 266.4L132.8 267.0L133.2 269.8L133.6 269.7L134.0 268.6L134.4 269.0L134.8 267.7L135.2 267.7L135.6 266.8L136.0 269.2L136.4 269.8L136.8 268.8L137.2 269.4L137.6 270.5L138.0 270.8L138.4 271.0L138.8 270.3L139.2 270.3L139.6 270.9L140.0 271.9L140.4 271.2L140.8 270.9L141.2 272.4L141.6 271.9L142.0 273.1L142.4 273.2L142.8 273.9L143.2 274.8L143.6 274.8L144.0 275.0L144.4 274.2L144.8 274.1L145.2 275.0L145.6 276.1L146.0 276.7L146.4 277.6L146.8 277.2L147.2 277.1L147.6 277.6L148.0 277.6L148.4 277.7L148.8 277.5L149.2 278.6L149.6 278.3L150.0 279.1L150.4 278.7L150.8 279.9L151.2 279.7L151.6 280.7L152.0 280.2L152.4 280.7L152.8 281.8L153.2 281.7L153.6 282.2L154.0 282.4L154.4 281.9L154.8 283.0L155.2 283.8L155.6 283.7L156.0 284.6L156.4 284.7L156.8 284.9L157.2 285.6L157.6 285.9L158.0 287.5L158.4 286.9L158.8 287.8L159.2 288.5L159.6 287.8L160.0 287.7L160.4 289.0L160.8 289.3L161.2 290.2L161.6 291.1L162.0 291.1L162.4 291.0L162.8 290.3L163.2 291.6L163.6 291.9L164.0 292.9L164.4 293.6L164.8 293.4L165.2 295.0L165.6 295.7L166.0 296.1L166.4 295.7L166.8 296.1L167.2 296.5L167.6 297.0L168.0 297.2L168.4 298.2L168.8 298.9L169.2 299.5L169.6 299.7L170.0 300.9L170.4 301.2L170.8 300.3L171.2 301.1L171.6 302.0L172.0 303.1L172.4 303.4L172.8 303.8L173.2 304.0L173.6 305.0L174.0 305.2L174.4 305.5L174.8 305.9L175.2 306.9L175.6 307.1L176.0 306.9L176.4 308.1L176.8 308.4L177.2 309.2L177.6 309.8L178.0 310.8L178.4 311.5L178.8 311.4L179.2 311.7L179.6 311.7L180.0 313.3L180.4 313.7L180.8 314.7L181.2 314.6L181.6 314.0L182.0 315.6L182.4 316.0L182.8 316.4L183.2 316.9L183.6 317.6L184.0 318.1L184.4 317.7L184.8 318.9L185.2 319.0L185.6 319.3L186.0 320.7L186.4 321.2L186.8 321.1L187.2 320.6L187.6 321.5L188.0 322.3L188.4 322.7L188.8 322.6L189.2 322.9L189.6 323.1L190.0 324.0L190.4 325.0L190.8 325.9L191.2 325.6L191.6 326.2L192.0 326.8L192.4 326.9L192.8 327.3L193.2 328.8L193.6 328.8L194.0 329.4L194.4 329.3L194.8 329.6L195.2 329.2L195.6 330.0L196.0 331.1L196.4 332.3L196.8 332.7L197.2 333.0L197.6 333.1L198.0 333.0L198.4 333.4L198.8 334.1L199.2 334.1L199.6 335.2L200.0 335.0L200.4 334.8L200.8 335.4L201.2 335.6L201.6 336.1L202.0 337.7L202.4 338.2L202.8 338.9L203.2 339.9L203.6 340.8L204.0 340.6L204.4 341.7L204.8 342.0L205.2 342.2L205.6 342.8L206.0 342.6L206.4 342.9L206.8 343.6L207.2 344.6L207.6 344.8L208.0 345.2L208.4 346.2L208.8 347.0L209.2 347.4L209.6 348.0L210.0 347.6L210.4 347.7L210.8 348.2L211.2 348.4L211.6 348.5L212.0 349.8L212.4 349.7L212.8 349.5L213.2 350.2L213.6 351.5L214.0 351.4L214.4 352.1L214.8 351.8L215.2 351.8L215.6 351.8L216.0 352.2L216.4 353.5L216.8 352.9L217.2 354.0L217.6 353.4L218.0 353.6L218.4 354.3L218.8 354.7L219.2 354.8L219.6 354.1L220.0 354.8L220.4 354.6L220.8 356.3L221.2 355.9L221.6 356.1L222.0 355.6L222.4 355.8L222.8 355.6L223.2 356.6L223.6 356.7L224.0 357.1L224.4 356.9L224.8 356.9L225.2 357.8L225.6 357.4L226.0 356.8L226.4 357.6L226.8 357.4L227.2 357.7L227.6 358.6L228.0 358.3L228.4 358.9L228.8 358.6L229.2 359.5L229.6 360.0L230.0 359.4L230.4 359.3L230.8 359.0L231.2 359.4L231.6 360.0L232.0 359.3L232.4 360.1L232.8 359.5L233.2 359.5L233.6 359.1L234.0 360.7L234.4 360.6L234.8 360.7L235.2 360.3L235.6 361.1L236.0 360.0L236.4 360.5L236.8 361.7L237.2 361.3L237.6 361.2L238.0 361.5L238.4 361.0L238.8 361.2L239.2 361.8L239.6 361.7L240.0 361.8L240.4 361.6L240.8 361.8L241.2 361.8L241.6 362.6L242.0 362.6L242.4 362.2L242.8 361.0L243.2 361.8L243.6 362.3L244.0 361.8L244.4 361.1L244.8 361.2L245.2 362.2L245.6 361.8L246.0 361.9L246.4 362.3L246.8 363.0L247.2 362.7L247.6 362.7L248.0 362.5L248.4 363.4L248.8 363.6L249.2 363.2L249.6 362.3L250.0 362.3L250.4 362.9L250.8 362.7L251.2 363.3L251.6 363.4L252.0 363.5L252.4 363.7L252.8 363.8L253.2 363.2L253.6 363.3L254.0 364.6L254.4 363.7L254.8 363.6L255.2 364.3L255.6 364.2L256.0 363.9L256.4 363.5L256.8 364.2L257.2 364.8L257.6 365.3L258.0 365.0L258.4 365.4L258.8 364.7L259.2 364.9L259.6 364.7L260.0 365.0L260.4 365.4L260.8 365.8L261.2 365.1L261.6 365.8L262.0 365.5L262.4 365.1L262.8 365.3L263.2 364.8L263.6 365.2L264.0 365.6L264.4 365.6L264.8 365.9L265.2 365.7L265.6 365.8L266.0 365.1L266.4 365.5L266.8 365.3L267.2 365.4L267.6 365.7L268.0 365.9L268.4 365.3L268.8 365.0L269.2 365.4L269.6 366.0L270.0 366.3L270.4 366.7L270.8 367.1L271.2 367.0L271.6 366.7L272.0 366.1L272.4 365.9L272.8 366.0L273.2 366.4L273.6 366.6L274.0 366.6L274.4 366.5L274.8 366.9L275.2 366.9L275.6 367.0L276.0 366.9L276.4 366.6L276.8 366.2L277.2 366.7L277.6 366.9L278.0 366.7L278.4 366.6L278.8 367.7L279.2 366.9L279.6 366.7L280.0 366.8L280.4 366.3L280.8 366.5L281.2 367.4L281.6 367.5L282.0 367.4L282.4 367.3L282.8 367.0L283.2 367.3L283.6 366.9L284.0 366.6L284.4 366.7L284.8 367.1L285.2 367.1L285.6 367.2L286.0 366.0L286.4 367.0L286.8 367.9L287.2 367.9L287.6 367.2L288.0 366.6L288.4 366.9L288.8 366.8L289.2 367.0L289.5 30.0L289.9 58.2L290.3 85.8L290.7 113.7L291.1 134.0L291.5 151.3L291.9 166.1L292.3 182.5L292.7 194.7L293.1 207.1L293.5 218.8L293.9 226.6L294.3 235.9L294.7 242.8L295.1 247.0L295.5 250.8L295.9 252.8L296.3 254.0L296.7 257.0L297.1 259.1L297.5 260.5L297.9 261.5L298.3 261.4L298.7 262.4L299.1 261.3L299.5 262.4L299.9 264.4L300.3 265.3L300.7 264.3L301.1 264.0L301.5 265.6L301.9 266.8L302.3 264.4L302.7 264.2L303.1 264.7L303.5 265.8L303.9 264.5L304.3 265.2L304.7 264.7L305.1 267.0L305.5 266.4L305.9 265.5L306.3 264.9L306.7 266.0L307.1 266.1L307.5 264.5L307.9 265.0L308.3 263.8L308.7 263.8L309.1 263.3L309.5 263.0L309.9 263.5L310.3 263.4L310.7 264.8L311.1 265.7L311.5 265.2L311.9 264.2L312.3 265.3L312.7 263.4L313.1 262.6L313.5 264.7L313.9 265.7L314.3 266.4L314.7 265.7L315.1 264.4L315.5 264.4L315.9 265.5L316.3 264.7L316.7 264.4L317.1 263.7L317.5 263.5L317.9 265.2L318.3 265.7L318.7 264.4L319.1 264.0L319.5 264.2L319.9 265.3L320.3 264.2L320.7 264.6L321.1 262.9L321.5 262.9L321.9 264.4L322.3 265.6L322.7 264.2L323.1 263.9L323.5 265.2L323.9 264.7L324.3 264.3L324.7 265.2L325.1 265.3L325.5 266.1L325.9 266.2L326.3 265.0L326.7 264.8L327.1 264.8L327.5 263.5L327.9 263.3L328.3 264.8L328.7 263.2L329.1 264.7L329.5 264.9L329.9 264.6L330.3 265.0L330.7 265.2L331.1 266.0L331.5 264.9L331.9 264.5L332.3 264.3L332.7 266.2L333.1 266.3L333.5 264.7L333.9 264.4L334.3 263.9L334.7 264.2L335.1 264.6L335.5 266.7L335.9 264.0L336.3 265.3L336.7 265.4L337.1 264.5L337.5 264.4L337.9 264.1L338.3 264.4L338.7 265.4L339.1 263.6L339.5 265.4L339.9 264.7L340.3 266.1L340.7 265.7L341.1 266.3L341.5 265.9L341.9 266.4L342.3 265.5L342.7 264.2L343.1 265.0L343.5 265.4L343.9 266.9L344.3 263.9L344.7 264.2L345.1 265.4L345.5 263.9L345.9 264.0L346.3 266.2L346.7 266.8L347.1 264.9L347.5 266.1L347.9 266.5L348.3 266.4L348.7 266.0L349.1 265.6L349.5 264.4L349.9 264.0L350.3 264.9L350.7 264.9L351.1 266.5L351.5 265.4L351.9 262.9L352.3 263.5L352.7 264.3L353.1 264.9L353.5 264.9L353.9 264.1L354.3 265.8L354.7 264.8L355.1 265.3L355.5 264.8L355.9 263.7L356.3 265.5L356.7 262.9L357.1 263.1L357.5 264.5L357.9 264.5L358.3 265.4L358.7 265.1L359.1 264.7L359.5 266.8L359.9 265.6L360.3 265.0L360.7 264.1L361.1 263.9L361.5 265.1L361.9 265.6L362.3 265.3L362.7 264.5L363.1 265.4L363.5 263.7L363.9 264.1L364.3 264.3L364.7 263.9L365.1 264.7L365.5 264.3L365.9 264.0L366.3 266.2L366.7 266.2L367.1 266.7L367.5 265.8L367.9 266.3L368.3 266.3L368.7 266.6L369.1 267.9L369.5 266.2L369.9 265.8L370.3 265.2L370.7 261.9L371.1 262.1L371.5 263.4L371.9 264.7L372.3 264.2L372.7 265.6L373.1 266.3L373.5 265.2L373.9 266.4L374.3 267.1L374.7 266.3L375.1 264.6L375.5 266.0L375.9 265.2L376.3 264.6L376.7 264.8L377.1 264.3L377.5 265.5L377.9 265.8L378.3 266.4L378.7 266.1L379.1 264.8L379.5 264.7L379.9 265.7L380.3 265.0L380.7 267.8L381.1 266.1L381.5 265.0L381.9 266.1L382.3 266.2L382.7 265.7L383.1 265.2L383.5 265.6L383.9 266.1L384.3 266.3L384.7 265.5L385.1 265.8L385.5 266.3L385.9 266.7L386.3 263.4L386.7 263.7L387.1 264.0L387.5 264.8L387.9 265.6L388.3 266.8L388.7 267.1L389.1 266.7L389.5 266.7L389.9 268.3L390.3 267.0L390.7 267.1L391.1 268.4L391.5 268.2L391.9 265.9L392.3 267.0L392.7 267.1L393.1 267.5L393.5 268.9L393.9 269.1L394.3 268.7L394.7 269.7L395.1 269.9L395.5 270.0L395.9 270.5L396.3 270.9L396.7 270.9L397.1 270.9L397.5 271.5L397.9 271.4L398.3 271.3L398.7 273.2L399.1 273.4L399.5 273.7L399.9 274.0L400.3 274.4L400.7 274.8L401.1 275.1L401.5 275.0L401.9 276.1L402.3 275.9L402.7 276.9L403.1 276.0L403.5 276.2L403.9 277.5L404.3 277.8L404.7 277.9L405.1 278.5L405.5 278.4L405.9 279.1L406.3 278.6L406.7 279.3L407.1 279.8L407.5 280.7L407.9 281.5L408.3 281.3L408.7 282.6L409.1 282.4L409.5 281.8L409.9 281.6L410.3 283.4L410.7 283.8L411.1 284.0L411.5 284.2L411.9 284.4L412.3 285.7L412.7 285.9L413.1 287.2L413.5 287.1L413.9 286.3L414.3 287.5L414.7 287.8L415.1 288.2L415.5 289.5L415.9 289.4L416.3 290.3L416.7 290.4L417.1 290.4L417.5 291.1L417.9 291.2L418.3 292.2L418.7 292.9L419.1 293.1L419.5 293.6L419.9 294.1L420.3 294.3L420.7 295.0L421.1 295.2L421.5 295.9L421.9 295.8L422.3 296.5L422.7 297.1L423.1 297.2L423.5 297.6L423.9 298.0L424.3 299.0L424.7 299.1L425.1 299.9L425.5 301.0L425.9 301.3L426.3 300.8L426.7 301.6L427.1 302.6L427.5 302.8L427.9 303.7L428.3 304.2L428.7 304.7L429.1 304.8L429.5 305.0L429.9 305.5L430.3 306.1L430.7 306.9L431.1 307.5L431.5 307.7L431.9 308.1L432.3 308.8L432.7 308.5L433.1 309.0L433.5 309.5L433.9 310.2L434.3 310.8L434.7 311.3L435.1 311.6L435.5 312.6L435.9 313.2L436.3 312.9L436.7 313.7L437.1 313.9L437.5 315.5L437.9 315.5L438.3 315.8L438.7 316.5L439.1 316.9L439.5 317.3L439.9 318.6L440.3 318.8L440.7 319.5L441.1 320.2L441.5 319.8L441.9 321.1L442.3 321.5L442.7 322.0L443.1 321.7L443.5 322.5L443.9 323.0L444.3 323.0L444.7 324.5L445.1 324.7L445.5 324.6L445.9 325.0L446.3 325.7L446.7 326.4L447.1 326.7L447.5 327.3L447.9 327.9L448.3 327.2L448.7 327.4L449.1 327.4L449.5 328.1L449.9 329.2L450.3 329.6L450.7 329.1L451.1 329.4L451.5 330.3L451.9 330.2L452.3 330.5L452.7 331.0L453.1 330.5L453.5 331.6L453.9 332.1L454.3 332.7L454.7 332.4L455.1 332.5L455.5 332.7L455.9 333.5L456.3 333.8L456.7 334.3L457.1 335.4L457.5 336.0L457.9 335.5L458.3 335.4L458.7 336.7L459.1 336.5L459.5 337.4L459.9 338.1L460.3 337.7L460.7 337.8L461.1 338.2L461.5 338.1L461.9 338.3L462.3 338.7L462.7 339.7L463.1 339.8L463.5 340.1L463.9 340.4L464.3 340.3L464.7 341.7L465.1 340.8L465.5 341.4L465.9 342.3L466.3 342.1L466.7 343.1L467.1 344.0L467.5 343.7L467.9 344.1L468.3 343.9L468.7 344.7L469.1 345.1L469.5 345.5L469.9 346.3L470.3 346.5L470.7 347.1L471.1 347.2L471.5 346.6L471.9 347.1L472.3 347.5L472.7 347.0L473.1 348.2L473.5 348.4L473.9 348.7L474.3 348.6L474.7 349.0L475.1 349.5L475.5 349.6L475.9 350.0L476.3 349.3L476.7 350.8L477.1 350.5L477.5 350.0L477.9 350.5L478.3 350.9L478.7 351.9L479.1 351.8L479.5 352.4L479.9 352.3L480.3 353.8L480.7 354.0L481.1 354.8L481.5 354.0L481.9 354.5L482.3 354.0L482.7 354.7L483.1 355.2L483.5 354.5L483.9 354.5L484.3 354.6L484.7 354.6L485.1 355.1L485.5 355.3L485.9 355.3L486.3 356.2L486.7 356.9L487.1 356.6L487.5 356.8L487.9 357.3L488.3 357.5L488.7 357.5L489.1 358.3L489.5 358.8L489.9 359.1L490.3 359.0L490.7 359.9L491.1 360.4L491.5 359.8L491.9 359.7L492.3 360.3L492.7 359.8L493.1 360.1L493.5 360.2L493.9 360.1L494.3 360.3L494.7 359.9L495.1 360.2L495.5 359.9L495.9 361.7L496.3 362.3L496.7 362.6L497.1 362.4L497.5 362.6L497.9 362.9L498.3 363.0L498.7 363.1L499.1 362.3L499.5 362.6L499.9 362.4L500.3 362.0L500.7 361.9L501.1 362.7L501.5 363.3L501.9 362.6L502.3 363.7L502.7 364.1L503.1 363.5L503.5 363.3L503.9 363.3L504.3 363.9L504.7 363.6L505.1 363.2L505.5 363.7L505.9 363.0L506.3 363.6L506.7 364.5L507.1 364.6L507.5 364.9L507.9 364.9L508.3 365.1L508.7 364.9L509.1 364.4L509.5 364.6L509.9 364.7L510.3 365.4L510.7 365.9L511.1 365.7L511.5 365.1L511.9 364.8L512.3 364.9L512.7 365.7L513.1 365.6L513.5 365.5L513.9 365.2L514.3 365.8L514.7 365.9L515.1 365.8L515.5 365.9L515.9 366.6L516.3 366.2L516.7 366.7L517.1 366.9L517.5 366.5L517.9 366.7L518.3 366.4L518.7 365.9L519.1 365.9L519.5 365.6L519.9 366.2L520.3 366.3L520.7 366.6L521.1 366.9L521.5 365.6L521.9 366.2L522.3 366.3" fill="none" stroke="#ff00ff" stroke-width="3.5" stroke-linejoin="round" stroke-linecap="square"/>
<path d="M57.2 74.0L57.6 100.6L58.0 125.0L58.4 145.8L58.8 162.4L59.2 179.1L59.6 193.2L60.0 206.9L60.4 216.0L60.8 222.6L61.2 227.9L61.6 232.6L62.0 236.6L62.4 239.8L62.8 244.9L63.2 247.7L63.6 250.3L64.0 253.7L64.4 255.0L64.8 257.0L65.2 258.5L65.6 260.7L66.0 262.1L66.4 263.4L66.8 264.3L67.2 265.7L67.6 267.5L68.0 267.0L68.4 268.6L68.8 269.6L69.2 270.7L69.6 270.9L70.0 273.0L70.4 273.5L70.8 274.5L71.2 275.3L71.6 275.4L72.0 276.6L72.4 276.7L72.8 277.7L73.2 278.9L73.6 279.9L74.0 280.8L74.4 281.6L74.8 283.6L75.2 284.0L75.6 283.7L76.0 284.5L76.4 285.4L76.8 286.7L77.2 287.6L77.6 288.5L78.0 290.9L78.4 291.7L78.8 292.5L79.2 293.5L79.6 294.6L80.0 296.6L80.4 297.5L80.8 298.9L81.2 297.6L81.6 299.6L82.0 301.4L82.4 303.1L82.8 303.3L83.2 303.0L83.6 304.6L84.0 305.2L84.4 305.2L84.8 306.4L85.2 308.4L85.6 309.7L86.0 310.5L86.4 310.3L86.8 312.7L87.2 312.1L87.6 312.9L88.0 313.0L88.4 315.0L88.8 315.8L89.2 316.8L89.6 317.2L90.0 317.7L90.4 318.5L90.8 318.1L91.2 319.9L91.6 321.1L92.0 321.2L92.4 321.9L92.8 322.8L93.2 324.2L93.6 324.6L94.0 324.9L94.4 325.2L94.8 325.1L95.2 326.0L95.6 327.1L96.0 327.7L96.4 328.6L96.8 329.6L97.2 330.3L97.6 330.8L98.0 331.6L98.4 332.0L98.8 332.4L99.2 333.1L99.6 332.6L100.0 334.3L100.4 334.0L100.8 335.3L101.2 335.7L101.6 336.7L102.0 336.9L102.4 336.7L102.8 338.0L103.2 338.3L103.6 338.7L104.0 339.1L104.4 340.0L104.8 340.5L105.2 340.7L105.6 340.0L106.0 340.6L106.4 341.4L106.8 342.9L107.2 342.9L107.6 343.0L108.0 343.9L108.4 343.8L108.8 344.1L109.2 344.5L109.6 344.1L110.0 345.5L110.4 346.0L110.8 346.1L111.2 345.9L111.6 346.9L112.0 348.2L112.4 347.8L112.8 347.7L113.2 348.8L113.6 348.3L114.0 348.1L114.4 349.2L114.8 349.8L115.2 350.5L115.6 350.8L116.0 351.7L116.4 351.9L116.8 352.0L117.2 352.4L117.6 353.3L118.0 354.0L118.4 354.4L118.8 354.7L119.2 352.7L119.6 353.4L120.0 354.2L120.4 354.9L120.8 354.4L121.2 356.0L121.6 356.2L122.0 355.9L122.4 356.3L122.8 356.4L123.2 356.3L123.6 357.1L124.0 357.0L124.4 356.6L124.8 357.0L125.2 357.5L125.6 357.4L126.0 358.7L126.4 358.1L126.8 359.5L127.2 359.7L127.6 358.9L128.0 359.3L128.4 360.1L128.8 359.8L129.2 359.2L129.6 359.8L130.0 361.2L130.4 359.9L130.8 360.6L131.2 360.7L131.6 360.8L132.0 360.7L132.4 360.8L132.8 361.7L133.2 361.9L133.6 361.2L134.0 362.4L134.4 361.4L134.8 362.2L135.2 362.3L135.6 363.0L136.0 362.9L136.4 363.3L136.8 363.0L137.2 363.5L137.6 363.4L138.0 364.4L138.4 363.3L138.8 364.0L139.2 364.0L139.6 363.9L140.0 363.5L140.4 363.9L140.8 363.1L141.2 362.9L141.6 364.1L142.0 363.3L142.4 364.7L142.8 364.4L143.2 364.7L143.6 364.7L144.0 365.0L144.4 364.7L144.8 364.6L145.2 364.8L145.6 365.6L146.0 366.0L146.4 366.2L146.8 365.9L147.2 365.5L147.6 364.6L148.0 365.6L148.4 366.1L148.8 365.7L149.2 366.2L149.6 366.8L150.0 366.4L150.4 366.8L150.8 366.6L151.2 365.4L151.6 365.7L152.0 365.9L152.4 366.5L152.8 366.1L153.2 366.1L153.6 365.9L154.0 366.4L154.4 366.7L154.8 367.3L155.2 367.5L155.6 367.3L156.0 367.3L156.4 367.2L156.8 367.2L157.2 368.0L157.6 366.2L158.0 366.7L158.4 367.2L158.8 367.9L159.2 367.0L159.6 367.4L160.0 367.9L160.4 367.3L160.8 366.3L161.2 366.8L161.6 366.6L162.0 367.5L162.4 367.0L162.8 368.3L163.2 367.9L163.6 367.3L164.0 367.2L164.4 366.9L164.8 367.5L165.2 368.4L165.6 367.9L166.0 368.3L166.4 367.4L166.8 367.8L167.2 369.0L167.6 367.5L168.0 368.4L168.4 368.7L168.8 367.1L169.2 366.8L169.6 366.9L170.0 368.0L170.4 367.7L170.8 367.7L171.2 368.2L171.6 368.1L172.0 368.1L172.4 367.9L172.8 368.5L173.2 367.8L173.6 368.8L174.0 368.1L174.4 367.6L174.8 368.2L175.2 368.3L175.6 367.1L176.0 367.8L176.4 367.2L176.8 367.3L177.2 368.2L177.6 367.6L178.0 368.1L178.4 367.9L178.8 369.0L179.2 368.4L179.6 367.6L180.0 367.3L180.4 367.2L180.8 367.8L181.2 368.0L181.6 368.6L182.0 368.4L182.4 368.2L182.8 368.3L183.2 368.1L183.6 368.2L184.0 368.6L184.4 368.7L184.8 368.0L185.2 367.1L185.6 367.2L186.0 367.9L186.4 366.6L186.8 367.2L187.2 368.0L187.6 367.7L188.0 367.3L188.4 368.7L188.8 369.1L189.2 368.3L189.6 368.9L190.0 369.1L190.4 367.9L190.8 369.4L191.2 368.1L191.6 367.9L192.0 367.4L192.4 367.8L192.8 367.2L193.2 367.7L193.6 368.5L194.0 368.4L194.4 368.0L194.8 368.9L195.2 367.9L195.6 368.5L196.0 368.1L196.4 368.2L196.8 368.1L197.2 368.1L197.6 368.1L198.0 367.6L198.4 367.6L198.8 368.1L199.2 368.0L199.6 367.4L200.0 367.4L200.4 367.4L200.8 367.8L201.2 368.0L201.6 368.1L202.0 367.7L202.4 367.9L202.8 367.2L203.2 366.1L203.6 367.2L204.0 366.8L204.4 367.0L204.8 367.0L205.2 368.0L205.6 367.3L206.0 367.9L206.4 367.7L206.8 367.2L207.2 366.8L207.6 367.8L208.0 368.2L208.4 368.5L208.8 369.2L209.2 368.7L209.6 368.4L210.0 368.1L210.4 368.1L210.8 367.9L211.2 367.5L211.6 368.9L212.0 367.3L212.4 367.9L212.8 368.2L213.2 368.2L213.6 367.5L214.0 367.7L214.4 367.6L214.8 367.3L215.2 367.7L215.6 367.7L216.0 367.6L216.4 368.2L216.8 367.5L217.2 368.0L217.6 367.7L218.0 368.1L218.4 368.1L218.8 368.2L219.2 367.5L219.6 367.4L220.0 367.3L220.4 367.8L220.8 368.3L221.2 368.7L221.6 368.0L222.0 368.0L222.4 367.1L222.8 366.4L223.2 366.9L223.6 367.2L224.0 366.8L224.4 366.5L224.8 367.7L225.2 367.4L225.6 366.8L226.0 368.8L226.4 368.4L226.8 368.0L227.2 368.4L227.6 367.7L228.0 368.7L228.4 367.4L228.8 367.1L229.2 367.5L229.6 367.4L230.0 368.5L230.4 367.3L230.8 367.3L231.2 367.8L231.6 368.2L232.0 368.6L232.4 368.4L232.8 369.4L233.2 368.3L233.6 368.2L234.0 368.5L234.4 368.0L234.8 367.8L235.2 367.7L235.6 367.5L236.0 367.2L236.4 367.3L236.8 366.9L237.2 367.7L237.6 367.0L238.0 368.7L238.4 369.2L238.8 369.1L239.2 368.3L239.6 367.8L240.0 368.6L240.4 368.3L240.8 368.4L241.2 367.7L241.6 368.5L242.0 367.7L242.4 367.9L242.8 367.0L243.2 367.2L243.6 367.9L244.0 367.7L244.4 367.6L244.8 368.2L245.2 368.0L245.6 368.7L246.0 366.9L246.4 367.9L246.8 368.2L247.2 367.2L247.6 366.9L248.0 368.0L248.4 367.4L248.8 367.4L249.2 368.1L249.6 367.8L250.0 368.2L250.4 367.6L250.8 368.0L251.2 368.5L251.6 368.4L252.0 366.9L252.4 367.9L252.8 368.0L253.2 367.5L253.6 368.5L254.0 367.2L254.4 368.7L254.8 367.9L255.2 368.8L255.6 368.3L256.0 367.3L256.4 367.8L256.8 368.1L257.2 368.3L257.6 368.7L258.0 367.7L258.4 368.1L258.8 368.4L259.2 368.0L259.6 367.5L260.0 367.2L260.4 368.1L260.8 368.4L261.2 367.7L261.6 367.1L262.0 368.3L262.4 367.2L262.8 367.8L263.2 367.4L263.6 366.8L264.0 367.5L264.4 367.7L264.8 368.6L265.2 369.5L265.6 368.5L266.0 368.7L266.4 368.8L266.8 368.0L267.2 367.5L267.6 368.7L268.0 368.0L268.4 368.0L268.8 367.8L269.2 367.8L269.6 367.6L270.0 368.2L270.4 368.7L270.8 368.1L271.2 367.2L271.6 367.7L272.0 367.0L272.4 367.2L272.8 368.3L273.2 369.4L273.6 368.7L274.0 367.7L274.4 368.3L274.8 366.8L275.2 367.1L275.6 368.5L276.0 368.6L276.4 367.4L276.8 366.8L277.2 368.0L277.6 367.9L278.0 367.6L278.4 368.0L278.8 367.7L279.2 366.8L279.6 367.9L280.0 367.6L280.4 367.3L280.8 366.9L281.2 367.7L281.6 367.4L282.0 368.1L282.4 367.9L282.8 368.5L283.2 368.0L283.6 367.6L284.0 366.7L284.4 366.9L284.8 367.9L285.2 369.6L285.6 367.9L286.0 367.4L286.4 367.9L286.8 368.2L287.2 367.7L287.6 367.9L288.0 367.0L288.4 367.6L288.8 368.1L289.2 368.0L289.5 27.6L289.9 57.1L290.3 85.2L290.7 110.9L291.1 132.6L291.5 149.8L291.9 165.2L292.3 179.7L292.7 191.6L293.1 202.0L293.5 211.8L293.9 218.8L294.3 224.1L294.7 228.0L295.1 231.2L295.5 234.4L295.9 236.9L296.3 239.5L296.7 242.1L297.1 244.5L297.5 247.6L297.9 248.9L298.3 251.4L298.7 253.4L299.1 256.6L299.5 258.4L299.9 260.0L300.3 262.3L300.7 263.8L301.1 264.9L301.5 267.3L301.9 268.4L302.3 269.9L302.7 270.7L303.1 271.3L303.5 271.6L303.9 271.4L304.3 272.7L304.7 273.2L305.1 274.1L305.5 274.5L305.9 274.6L306.3 274.9L306.7 276.4L307.1 277.8L307.5 277.9L307.9 278.8L308.3 280.0L308.7 279.8L309.1 280.4L309.5 280.6L309.9 282.4L310.3 283.1L310.7 283.4L311.1 283.3L311.5 284.5L311.9 286.1L312.3 286.4L312.7 286.9L313.1 288.2L313.5 288.1L313.9 289.2L314.3 290.4L314.7 290.6L315.1 291.1L315.5 292.3L315.9 293.1L316.3 293.8L316.7 294.8L317.1 295.7L317.5 295.9L317.9 296.6L318.3 297.9L318.7 299.3L319.1 300.5L319.5 300.2L319.9 301.7L320.3 302.6L320.7 303.0L321.1 303.9L321.5 305.0L321.9 306.4L322.3 305.9L322.7 307.1L323.1 307.6L323.5 308.3L323.9 309.8L324.3 310.6L324.7 310.5L325.1 311.3L325.5 312.4L325.9 312.4L326.3 314.1L326.7 314.8L327.1 315.7L327.5 316.6L327.9 318.2L328.3 318.4L328.7 318.8L329.1 320.5L329.5 320.5L329.9 321.0L330.3 321.2L330.7 323.2L331.1 324.0L331.5 324.9L331.9 325.7L332.3 326.3L332.7 326.6L333.1 327.3L333.5 328.6L333.9 329.4L334.3 331.0L334.7 330.8L335.1 331.2L335.5 331.5L335.9 333.3L336.3 333.0L336.7 334.3L337.1 335.6L337.5 335.6L337.9 336.5L338.3 335.6L338.7 336.6L339.1 336.6L339.5 337.9L339.9 338.7L340.3 338.9L340.7 340.3L341.1 340.8L341.5 340.8L341.9 341.2L342.3 341.1L342.7 342.0L343.1 343.9L343.5 343.4L343.9 344.1L344.3 344.1L344.7 345.1L345.1 345.5L345.5 345.6L345.9 345.1L346.3 345.8L346.7 347.2L347.1 347.3L347.5 348.0L347.9 347.9L348.3 347.4L348.7 348.6L349.1 349.3L349.5 349.3L349.9 349.6L350.3 350.4L350.7 350.4L351.1 351.1L351.5 351.3L351.9 350.4L352.3 351.5L352.7 351.8L353.1 352.0L353.5 353.0L353.9 353.1L354.3 353.8L354.7 354.6L355.1 354.6L355.5 353.8L355.9 354.1L356.3 355.3L356.7 355.3L357.1 355.2L357.5 355.7L357.9 356.4L358.3 356.6L358.7 357.1L359.1 356.7L359.5 356.9L359.9 357.2L360.3 357.6L360.7 356.7L361.1 357.5L361.5 357.4L361.9 358.9L362.3 359.8L362.7 360.3L363.1 360.2L363.5 359.6L363.9 360.2L364.3 360.0L364.7 360.4L365.1 359.9L365.5 360.0L365.9 360.7L366.3 361.8L366.7 361.3L367.1 362.5L367.5 363.3L367.9 361.6L368.3 361.6L368.7 361.3L369.1 361.6L369.5 361.7L369.9 362.0L370.3 362.8L370.7 363.2L371.1 363.1L371.5 363.0L371.9 363.1L372.3 363.2L372.7 363.6L373.1 363.5L373.5 363.8L373.9 363.0L374.3 363.9L374.7 364.9L375.1 364.5L375.5 363.6L375.9 364.7L376.3 364.4L376.7 362.8L377.1 363.8L377.5 364.7L377.9 365.0L378.3 365.6L378.7 365.6L379.1 365.4L379.5 364.2L379.9 364.3L380.3 365.0L380.7 365.7L381.1 365.0L381.5 365.1L381.9 365.7L382.3 364.7L382.7 364.4L383.1 365.2L383.5 365.8L383.9 365.7L384.3 364.7L384.7 365.7L385.1 365.3L385.5 366.3L385.9 366.4L386.3 366.6L386.7 367.0L387.1 366.5L387.5 367.1L387.9 367.6L388.3 367.4L388.7 367.8L389.1 367.0L389.5 367.5L389.9 367.4L390.3 366.7L390.7 366.9L391.1 366.8L391.5 366.8L391.9 367.1L392.3 367.8L392.7 367.4L393.1 367.5L393.5 366.6L393.9 367.2L394.3 368.0L394.7 368.1L395.1 368.0L395.5 367.4L395.9 367.0L396.3 367.3L396.7 366.7L397.1 366.6L397.5 367.7L397.9 367.1L398.3 368.4L398.7 367.2L399.1 367.7L399.5 367.0L399.9 367.5L400.3 367.0L400.7 367.5L401.1 367.5L401.5 367.4L401.9 367.9L402.3 368.6L402.7 367.8L403.1 368.2L403.5 368.0L403.9 367.9L404.3 369.0L404.7 367.1L405.1 367.2L405.5 366.6L405.9 367.2L406.3 367.4L406.7 369.8L407.1 368.8L407.5 369.2L407.9 369.1L408.3 368.1L408.7 368.2L409.1 368.9L409.5 368.4L409.9 368.2L410.3 368.3L410.7 367.3L411.1 367.2L411.5 367.8L411.9 368.2L412.3 367.5L412.7 367.6L413.1 367.7L413.5 367.8L413.9 368.3L414.3 368.1L414.7 368.1L415.1 367.3L415.5 367.1L415.9 367.8L416.3 367.0L416.7 367.8L417.1 367.5L417.5 367.4L417.9 368.1L418.3 367.7L418.7 367.4L419.1 367.4L419.5 367.8L419.9 369.4L420.3 367.4L420.7 367.7L421.1 367.8L421.5 368.4L421.9 368.0L422.3 366.6L422.7 368.2L423.1 367.5L423.5 367.7L423.9 367.1L424.3 367.0L424.7 367.3L425.1 368.2L425.5 368.5L425.9 367.9L426.3 368.2L426.7 367.9L427.1 368.0L427.5 368.1L427.9 368.4L428.3 367.8L428.7 367.8L429.1 368.0L429.5 368.1L429.9 367.6L430.3 368.8L430.7 368.0L431.1 368.4L431.5 368.3L431.9 368.8L432.3 367.1L432.7 368.7L433.1 368.2L433.5 367.4L433.9 367.8L434.3 369.1L434.7 368.7L435.1 367.6L435.5 367.6L435.9 368.5L436.3 367.4L436.7 367.7L437.1 367.7L437.5 369.0L437.9 368.2L438.3 368.8L438.7 367.9L439.1 367.5L439.5 368.3L439.9 368.5L440.3 367.2L440.7 368.0L441.1 368.3L441.5 367.8L441.9 368.0L442.3 368.1L442.7 367.8L443.1 367.6L443.5 367.4L443.9 367.6L444.3 367.1L444.7 367.6L445.1 367.0L445.5 367.6L445.9 367.8L446.3 367.3L446.7 368.2L447.1 369.1L447.5 369.2L447.9 367.7L448.3 368.6L448.7 368.3L449.1 368.1L449.5 367.7L449.9 367.9L450.3 368.7L450.7 368.6L451.1 368.0L451.5 367.6L451.9 367.6L452.3 368.1L452.7 369.1L453.1 367.8L453.5 367.9L453.9 367.7L454.3 367.5L454.7 368.0L455.1 368.3L455.5 367.3L455.9 367.1L456.3 368.3L456.7 368.3L457.1 368.4L457.5 367.9L457.9 367.7L458.3 368.1L458.7 367.8L459.1 367.3L459.5 367.7L459.9 368.4L460.3 367.6L460.7 368.4L461.1 368.5L461.5 367.7L461.9 367.9L462.3 367.9L462.7 368.3L463.1 368.5L463.5 367.5L463.9 367.0L464.3 368.2L464.7 368.1L465.1 368.3L465.5 368.3L465.9 368.9L466.3 367.7L466.7 368.5L467.1 367.7L467.5 368.3L467.9 368.8L468.3 367.6L468.7 368.0L469.1 367.8L469.5 367.8L469.9 367.9L470.3 367.4L470.7 367.2L471.1 368.0L471.5 368.4L471.9 367.9L472.3 367.1L472.7 368.9L473.1 368.9L473.5 368.6L473.9 367.6L474.3 367.5L474.7 367.9L475.1 367.4L475.5 368.6L475.9 368.3L476.3 368.3L476.7 367.5L477.1 367.3L477.5 367.3L477.9 367.8L478.3 367.8L478.7 367.7L479.1 368.0L479.5 368.1L479.9 368.8L480.3 368.2L480.7 367.5L481.1 367.8L481.5 368.7L481.9 368.0L482.3 368.0L482.7 367.8L483.1 368.1L483.5 368.2L483.9 367.6L484.3 367.7L484.7 368.4L485.1 368.7L485.5 368.8L485.9 368.8L486.3 368.1L486.7 367.8L487.1 368.4L487.5 367.5L487.9 367.8L488.3 366.9L488.7 367.3L489.1 367.3L489.5 367.1L489.9 367.9L490.3 367.6L490.7 367.6L491.1 367.7L491.5 367.5L491.9 368.5L492.3 367.9L492.7 368.1L493.1 367.3L493.5 367.4L493.9 367.6L494.3 367.7L494.7 367.5L495.1 367.9L495.5 368.8L495.9 368.2L496.3 368.0L496.7 367.8L497.1 369.3L497.5 369.4L497.9 368.8L498.3 368.7L498.7 367.9L499.1 367.9L499.5 368.0L499.9 368.1L500.3 367.5L500.7 367.4L501.1 368.0L501.5 368.2L501.9 366.9L502.3 367.6L502.7 368.5L503.1 367.8L503.5 368.0L503.9 367.2L504.3 368.1L504.7 367.4L505.1 367.1L505.5 367.4L505.9 369.0L506.3 368.1L506.7 367.3L507.1 368.0L507.5 368.1L507.9 368.9L508.3 367.7L508.7 367.0L509.1 367.4L509.5 368.0L509.9 368.2L510.3 368.6L510.7 367.4L511.1 367.3L511.5 367.6L511.9 368.3L512.3 368.4L512.7 367.9L513.1 367.4L513.5 368.2L513.9 368.6L514.3 369.7L514.7 368.6L515.1 369.1L515.5 367.8L515.9 367.6L516.3 367.5L516.7 367.5L517.1 367.3L517.5 367.4L517.9 367.7L518.3 367.6L518.7 368.2L519.1 368.0L519.5 368.0L519.9 368.8L520.3 368.5L520.7 368.3L521.1 368.1L521.5 368.0L521.9 368.1L522.3 368.0" fill="none" stroke="#0000ff" stroke-width="3.0" stroke-linejoin="round" stroke-linecap="square"/>
<path d="M57.2 74.0L57.6 117.7L58.0 150.0L58.4 170.2L58.8 187.1L59.2 200.9L59.6 211.8L60.0 220.0L60.4 226.4L60.8 231.9L61.2 236.4L61.6 240.1L62.0 243.0L62.4 245.2L62.8 247.0L63.2 248.6L63.6 250.2L64.0 251.7L64.4 253.1L64.8 254.5L65.2 255.7L65.6 256.9L66.0 258.0L66.4 259.0L66.8 260.0L67.2 261.0L67.6 261.9L68.0 262.8L68.4 263.6L68.8 264.4L69.2 265.2L69.6 266.0L70.0 266.7L70.4 267.4L70.8 268.0L71.2 268.6L71.6 269.1L72.0 269.7L72.4 270.2L72.8 270.7L73.2 271.2L73.6 271.7L74.0 272.1L74.4 272.6L74.8 273.1L75.2 273.5L75.6 273.9L76.0 274.4L76.4 274.8L76.8 275.2L77.2 275.6L77.6 276.0L78.0 276.3L78.4 276.7L78.8 277.1L79.2 277.4L79.6 277.7L80.0 278.1L80.4 278.4L80.8 278.7L81.2 279.0L81.6 279.3L82.0 279.6L82.4 279.8L82.8 280.1L83.2 280.3L83.6 280.6L84.0 280.8L84.4 281.0L84.8 281.2L85.2 281.5L85.6 281.7L86.0 281.9L86.4 282.1L86.8 282.3L87.2 282.4L87.6 282.6L88.0 282.8L88.4 283.0L88.8 283.2L89.2 283.3L89.6 283.5L90.0 283.6L90.4 283.8L90.8 284.0L91.2 284.1L91.6 284.3L92.0 284.4L92.4 284.6L92.8 284.7L93.2 284.9L93.6 285.0L94.0 285.1L94.4 285.3L94.8 285.4L95.2 285.6L95.6 285.7L96.0 285.8L96.4 286.0L96.8 286.1L97.2 286.2L97.6 286.4L98.0 286.5L98.4 286.7L98.8 286.8L99.2 286.9L99.6 287.1L100.0 287.2L100.4 287.3L100.8 287.5L101.2 287.6L101.6 287.8L102.0 287.9L102.4 288.0L102.8 288.2L103.2 288.3L103.6 288.4L104.0 288.6L104.4 288.7L104.8 288.9L105.2 289.0L105.6 289.1L106.0 289.3L106.4 289.4L106.8 289.5L107.2 289.7L107.6 289.8L108.0 289.9L108.4 290.0L108.8 290.2L109.2 290.3L109.6 290.4L110.0 290.6L110.4 290.7L110.8 290.8L111.2 290.9L111.6 291.1L112.0 291.2L112.4 291.3L112.8 291.4L113.2 291.6L113.6 291.7L114.0 291.8L114.4 291.9L114.8 292.0L115.2 292.2L115.6 292.3L116.0 292.4L116.4 292.5L116.8 292.6L117.2 292.7L117.6 292.9L118.0 293.0L118.4 293.1L118.8 293.2L119.2 293.3L119.6 293.4L120.0 293.5L120.4 293.6L120.8 293.7L121.2 293.8L121.6 293.9L122.0 294.0L122.4 294.1L122.8 294.3L123.2 294.4L123.6 294.5L124.0 294.6L124.4 294.7L124.8 294.8L125.2 294.8L125.6 294.9L126.0 295.0L126.4 295.1L126.8 295.2L127.2 295.3L127.6 295.4L128.0 295.5L128.4 295.6L128.8 295.7L129.2 295.8L129.6 295.9L130.0 296.0L130.4 296.1L130.8 296.2L131.2 296.2L131.6 296.3L132.0 296.4L132.4 296.5L132.8 296.6L133.2 296.7L133.6 296.8L134.0 296.8L134.4 296.9L134.8 297.0L135.2 297.1L135.6 297.2L136.0 297.3L136.4 297.3L136.8 297.4L137.2 297.5L137.6 297.6L138.0 297.7L138.4 297.7L138.8 297.8L139.2 297.9L139.6 298.0L140.0 298.0L140.4 298.1L140.8 298.2L141.2 298.3L141.6 298.3L142.0 298.4L142.4 298.5L142.8 298.6L143.2 298.6L143.6 298.7L144.0 298.8L144.4 298.8L144.8 298.9L145.2 299.0L145.6 299.1L146.0 299.1L146.4 299.2L146.8 299.3L147.2 299.3L147.6 299.4L148.0 299.5L148.4 299.5L148.8 299.6L149.2 299.7L149.6 299.7L150.0 299.8L150.4 299.8L150.8 299.9L151.2 300.0L151.6 300.0L152.0 300.1L152.4 300.2L152.8 300.2L153.2 300.3L153.6 300.3L154.0 300.4L154.4 300.5L154.8 300.5L155.2 300.6L155.6 300.6L156.0 300.7L156.4 300.8L156.8 300.8L157.2 300.9L157.6 300.9L158.0 301.0L158.4 301.0L158.8 301.1L159.2 301.1L159.6 301.2L160.0 301.2L160.4 301.3L160.8 301.3L161.2 301.4L161.6 301.4L162.0 301.5L162.4 301.5L162.8 301.6L163.2 301.6L163.6 301.7L164.0 301.7L164.4 301.8L164.8 301.8L165.2 301.9L165.6 301.9L166.0 302.0L166.4 302.0L166.8 302.1L167.2 302.1L167.6 302.1L168.0 302.2L168.4 302.2L168.8 302.3L169.2 302.3L169.6 302.4L170.0 302.4L170.4 302.4L170.8 302.5L171.2 302.5L171.6 302.6L172.0 302.6L172.4 302.6L172.8 302.7L173.2 302.7L173.6 302.8L174.0 302.8L174.4 302.8L174.8 302.9L175.2 302.9L175.6 302.9L176.0 303.0L176.4 303.0L176.8 303.1L177.2 303.1L177.6 303.1L178.0 303.2L178.4 303.2L178.8 303.3L179.2 303.3L179.6 303.3L180.0 303.4L180.4 303.4L180.8 303.4L181.2 303.5L181.6 303.5L182.0 303.6L182.4 303.6L182.8 303.6L183.2 303.7L183.6 303.7L184.0 303.8L184.4 303.8L184.8 303.8L185.2 303.9L185.6 303.9L186.0 304.0L186.4 304.0L186.8 304.0L187.2 304.1L187.6 304.1L188.0 304.1L188.4 304.2L188.8 304.2L189.2 304.3L189.6 304.3L190.0 304.3L190.4 304.4L190.8 304.4L191.2 304.5L191.6 304.5L192.0 304.5L192.4 304.6L192.8 304.6L193.2 304.7L193.6 304.7L194.0 304.7L194.4 304.8L194.8 304.8L195.2 304.8L195.6 304.9L196.0 304.9L196.4 305.0L196.8 305.0L197.2 305.0L197.6 305.1L198.0 305.1L198.4 305.1L198.8 305.2L199.2 305.2L199.6 305.3L200.0 305.3L200.4 305.3L200.8 305.4L201.2 305.4L201.6 305.4L202.0 305.5L202.4 305.5L202.8 305.5L203.2 305.6L203.6 305.6L204.0 305.6L204.4 305.7L204.8 305.7L205.2 305.7L205.6 305.8L206.0 305.8L206.4 305.9L206.8 305.9L207.2 305.9L207.6 306.0L208.0 306.0L208.4 306.0L208.8 306.1L209.2 306.1L209.6 306.1L210.0 306.2L210.4 306.2L210.8 306.2L211.2 306.3L211.6 306.3L212.0 306.3L212.4 306.4L212.8 306.4L213.2 306.4L213.6 306.5L214.0 306.5L214.4 306.5L214.8 306.6L215.2 306.6L215.6 306.6L216.0 306.6L216.4 306.7L216.8 306.7L217.2 306.7L217.6 306.8L218.0 306.8L218.4 306.8L218.8 306.9L219.2 306.9L219.6 306.9L220.0 307.0L220.4 307.0L220.8 307.0L221.2 307.1L221.6 307.1L222.0 307.1L222.4 307.2L222.8 307.2L223.2 307.2L223.6 307.3L224.0 307.3L224.4 307.3L224.8 307.3L225.2 307.4L225.6 307.4L226.0 307.4L226.4 307.5L226.8 307.5L227.2 307.5L227.6 307.6L228.0 307.6L228.4 307.6L228.8 307.7L229.2 307.7L229.6 307.7L230.0 307.7L230.4 307.8L230.8 307.8L231.2 307.8L231.6 307.9L232.0 307.9L232.4 307.9L232.8 308.0L233.2 308.0L233.6 308.0L234.0 308.0L234.4 308.1L234.8 308.1L235.2 308.1L235.6 308.2L236.0 308.2L236.4 308.2L236.8 308.3L237.2 308.3L237.6 308.3L238.0 308.4L238.4 308.4L238.8 308.4L239.2 308.4L239.6 308.5L240.0 308.5L240.4 308.5L240.8 308.6L241.2 308.6L241.6 308.6L242.0 308.7L242.4 308.7L242.8 308.7L243.2 308.7L243.6 308.8L244.0 308.8L244.4 308.8L244.8 308.9L245.2 308.9L245.6 308.9L246.0 309.0L246.4 309.0L246.8 309.0L247.2 309.1L247.6 309.1L248.0 309.1L248.4 309.2L248.8 309.2L249.2 309.2L249.6 309.3L250.0 309.3L250.4 309.3L250.8 309.3L251.2 309.4L251.6 309.4L252.0 309.4L252.4 309.5L252.8 309.5L253.2 309.5L253.6 309.6L254.0 309.6L254.4 309.6L254.8 309.7L255.2 309.7L255.6 309.7L256.0 309.8L256.4 309.8L256.8 309.8L257.2 309.9L257.6 309.9L258.0 309.9L258.4 310.0L258.8 310.0L259.2 310.0L259.6 310.1L260.0 310.1L260.4 310.1L260.8 310.1L261.2 310.2L261.6 310.2L262.0 310.2L262.4 310.3L262.8 310.3L263.2 310.3L263.6 310.4L264.0 310.4L264.4 310.4L264.8 310.4L265.2 310.5L265.6 310.5L266.0 310.5L266.4 310.6L266.8 310.6L267.2 310.6L267.6 310.7L268.0 310.7L268.4 310.7L268.8 310.7L269.2 310.8L269.6 310.8L270.0 310.8L270.4 310.8L270.8 310.9L271.2 310.9L271.6 310.9L272.0 311.0L272.4 311.0L272.8 311.0L273.2 311.0L273.6 311.1L274.0 311.1L274.4 311.1L274.8 311.1L275.2 311.2L275.6 311.2L276.0 311.2L276.4 311.2L276.8 311.2L277.2 311.3L277.6 311.3L278.0 311.3L278.4 311.3L278.8 311.4L279.2 311.4L279.6 311.4L280.0 311.4L280.4 311.4L280.8 311.5L281.2 311.5L281.6 311.5L282.0 311.5L282.4 311.5L282.8 311.5L283.2 311.6L283.6 311.6L284.0 311.6L284.4 311.6L284.8 311.6L285.2 311.6L285.6 311.7L286.0 311.7L286.4 311.7L286.8 311.7L287.2 311.7L287.6 311.7L288.0 311.7L288.4 311.7L288.8 311.7L289.2 311.7L289.5 30.0L289.9 68.1L290.3 102.8L290.7 132.3L291.1 155.2L291.5 174.9L291.9 192.7L292.3 207.7L292.7 219.1L293.1 226.5L293.5 231.8L293.9 236.3L294.3 239.8L294.7 242.5L295.1 244.4L295.5 245.8L295.9 246.9L296.3 247.9L296.7 248.8L297.1 249.7L297.5 250.6L297.9 251.5L298.3 252.4L298.7 253.3L299.1 254.2L299.5 255.0L299.9 255.8L300.3 256.6L300.7 257.4L301.1 258.1L301.5 258.8L301.9 259.5L302.3 260.2L302.7 260.8L303.1 261.3L303.5 261.9L303.9 262.4L304.3 262.9L304.7 263.3L305.1 263.8L305.5 264.3L305.9 264.7L306.3 265.1L306.7 265.5L307.1 265.9L307.5 266.3L307.9 266.7L308.3 267.1L308.7 267.5L309.1 267.8L309.5 268.2L309.9 268.5L310.3 268.8L310.7 269.1L311.1 269.4L311.5 269.7L311.9 270.0L312.3 270.3L312.7 270.6L313.1 270.8L313.5 271.1L313.9 271.3L314.3 271.6L314.7 271.8L315.1 272.0L315.5 272.2L315.9 272.4L316.3 272.6L316.7 272.8L317.1 273.0L317.5 273.2L317.9 273.4L318.3 273.6L318.7 273.7L319.1 273.9L319.5 274.1L319.9 274.3L320.3 274.4L320.7 274.6L321.1 274.8L321.5 274.9L321.9 275.1L322.3 275.3L322.7 275.4L323.1 275.6L323.5 275.8L323.9 276.0L324.3 276.1L324.7 276.3L325.1 276.5L325.5 276.7L325.9 276.9L326.3 277.0L326.7 277.2L327.1 277.4L327.5 277.6L327.9 277.7L328.3 277.9L328.7 278.1L329.1 278.3L329.5 278.5L329.9 278.6L330.3 278.8L330.7 279.0L331.1 279.2L331.5 279.4L331.9 279.5L332.3 279.7L332.7 279.9L333.1 280.1L333.5 280.2L333.9 280.4L334.3 280.6L334.7 280.7L335.1 280.9L335.5 281.1L335.9 281.3L336.3 281.4L336.7 281.6L337.1 281.7L337.5 281.9L337.9 282.1L338.3 282.2L338.7 282.4L339.1 282.5L339.5 282.7L339.9 282.8L340.3 283.0L340.7 283.1L341.1 283.3L341.5 283.4L341.9 283.5L342.3 283.7L342.7 283.8L343.1 284.0L343.5 284.1L343.9 284.2L344.3 284.3L344.7 284.5L345.1 284.6L345.5 284.7L345.9 284.8L346.3 284.9L346.7 285.0L347.1 285.1L347.5 285.2L347.9 285.3L348.3 285.5L348.7 285.6L349.1 285.7L349.5 285.7L349.9 285.8L350.3 285.9L350.7 286.0L351.1 286.1L351.5 286.2L351.9 286.3L352.3 286.4L352.7 286.5L353.1 286.6L353.5 286.6L353.9 286.7L354.3 286.8L354.7 286.9L355.1 287.0L355.5 287.0L355.9 287.1L356.3 287.2L356.7 287.3L357.1 287.4L357.5 287.4L357.9 287.5L358.3 287.6L358.7 287.7L359.1 287.7L359.5 287.8L359.9 287.9L360.3 287.9L360.7 288.0L361.1 288.1L361.5 288.1L361.9 288.2L362.3 288.3L362.7 288.3L363.1 288.4L363.5 288.5L363.9 288.5L364.3 288.6L364.7 288.7L365.1 288.7L365.5 288.8L365.9 288.9L366.3 288.9L366.7 289.0L367.1 289.0L367.5 289.1L367.9 289.2L368.3 289.2L368.7 289.3L369.1 289.3L369.5 289.4L369.9 289.5L370.3 289.5L370.7 289.6L371.1 289.6L371.5 289.7L371.9 289.7L372.3 289.8L372.7 289.9L373.1 289.9L373.5 290.0L373.9 290.0L374.3 290.1L374.7 290.1L375.1 290.2L375.5 290.2L375.9 290.3L376.3 290.4L376.7 290.4L377.1 290.5L377.5 290.5L377.9 290.6L378.3 290.6L378.7 290.7L379.1 290.7L379.5 290.8L379.9 290.8L380.3 290.9L380.7 290.9L381.1 291.0L381.5 291.0L381.9 291.1L382.3 291.1L382.7 291.2L383.1 291.2L383.5 291.3L383.9 291.3L384.3 291.4L384.7 291.4L385.1 291.5L385.5 291.5L385.9 291.6L386.3 291.6L386.7 291.7L387.1 291.7L387.5 291.8L387.9 291.8L388.3 291.9L388.7 291.9L389.1 291.9L389.5 292.0L389.9 292.0L390.3 292.1L390.7 292.1L391.1 292.2L391.5 292.2L391.9 292.3L392.3 292.3L392.7 292.3L393.1 292.4L393.5 292.4L393.9 292.5L394.3 292.5L394.7 292.6L395.1 292.6L395.5 292.7L395.9 292.7L396.3 292.8L396.7 292.8L397.1 292.9L397.5 292.9L397.9 293.0L398.3 293.0L398.7 293.1L399.1 293.1L399.5 293.2L399.9 293.2L400.3 293.3L400.7 293.4L401.1 293.4L401.5 293.5L401.9 293.5L402.3 293.6L402.7 293.7L403.1 293.7L403.5 293.8L403.9 293.9L404.3 293.9L404.7 294.0L405.1 294.0L405.5 294.1L405.9 294.2L406.3 294.2L406.7 294.3L407.1 294.4L407.5 294.4L407.9 294.5L408.3 294.6L408.7 294.6L409.1 294.7L409.5 294.8L409.9 294.8L410.3 294.9L410.7 295.0L411.1 295.0L411.5 295.1L411.9 295.2L412.3 295.2L412.7 295.3L413.1 295.3L413.5 295.4L413.9 295.4L414.3 295.5L414.7 295.5L415.1 295.6L415.5 295.6L415.9 295.7L416.3 295.7L416.7 295.8L417.1 295.8L417.5 295.9L417.9 295.9L418.3 296.0L418.7 296.0L419.1 296.1L419.5 296.1L419.9 296.2L420.3 296.2L420.7 296.3L421.1 296.3L421.5 296.3L421.9 296.4L422.3 296.4L422.7 296.5L423.1 296.5L423.5 296.5L423.9 296.6L424.3 296.6L424.7 296.7L425.1 296.7L425.5 296.7L425.9 296.8L426.3 296.8L426.7 296.8L427.1 296.9L427.5 296.9L427.9 297.0L428.3 297.0L428.7 297.0L429.1 297.1L429.5 297.1L429.9 297.1L430.3 297.2L430.7 297.2L431.1 297.2L431.5 297.3L431.9 297.3L432.3 297.3L432.7 297.4L433.1 297.4L433.5 297.5L433.9 297.5L434.3 297.5L434.7 297.6L435.1 297.6L435.5 297.6L435.9 297.6L436.3 297.7L436.7 297.7L437.1 297.7L437.5 297.8L437.9 297.8L438.3 297.8L438.7 297.9L439.1 297.9L439.5 297.9L439.9 298.0L440.3 298.0L440.7 298.0L441.1 298.1L441.5 298.1L441.9 298.1L442.3 298.2L442.7 298.2L443.1 298.2L443.5 298.2L443.9 298.3L444.3 298.3L444.7 298.3L445.1 298.4L445.5 298.4L445.9 298.4L446.3 298.5L446.7 298.5L447.1 298.5L447.5 298.5L447.9 298.6L448.3 298.6L448.7 298.6L449.1 298.7L449.5 298.7L449.9 298.7L450.3 298.8L450.7 298.8L451.1 298.8L451.5 298.8L451.9 298.9L452.3 298.9L452.7 298.9L453.1 299.0L453.5 299.0L453.9 299.0L454.3 299.1L454.7 299.1L455.1 299.1L455.5 299.2L455.9 299.2L456.3 299.2L456.7 299.2L457.1 299.3L457.5 299.3L457.9 299.3L458.3 299.4L458.7 299.4L459.1 299.4L459.5 299.5L459.9 299.5L460.3 299.5L460.7 299.6L461.1 299.6L461.5 299.6L461.9 299.6L462.3 299.7L462.7 299.7L463.1 299.7L463.5 299.8L463.9 299.8L464.3 299.8L464.7 299.9L465.1 299.9L465.5 299.9L465.9 300.0L466.3 300.0L466.7 300.0L467.1 300.1L467.5 300.1L467.9 300.1L468.3 300.1L468.7 300.2L469.1 300.2L469.5 300.2L469.9 300.3L470.3 300.3L470.7 300.3L471.1 300.4L471.5 300.4L471.9 300.4L472.3 300.5L472.7 300.5L473.1 300.5L473.5 300.5L473.9 300.6L474.3 300.6L474.7 300.6L475.1 300.7L475.5 300.7L475.9 300.7L476.3 300.8L476.7 300.8L477.1 300.8L477.5 300.8L477.9 300.9L478.3 300.9L478.7 300.9L479.1 301.0L479.5 301.0L479.9 301.0L480.3 301.1L480.7 301.1L481.1 301.1L481.5 301.1L481.9 301.2L482.3 301.2L482.7 301.2L483.1 301.3L483.5 301.3L483.9 301.3L484.3 301.3L484.7 301.4L485.1 301.4L485.5 301.4L485.9 301.5L486.3 301.5L486.7 301.5L487.1 301.6L487.5 301.6L487.9 301.6L488.3 301.6L488.7 301.7L489.1 301.7L489.5 301.7L489.9 301.8L490.3 301.8L490.7 301.8L491.1 301.8L491.5 301.9L491.9 301.9L492.3 301.9L492.7 302.0L493.1 302.0L493.5 302.0L493.9 302.0L494.3 302.1L494.7 302.1L495.1 302.1L495.5 302.2L495.9 302.2L496.3 302.2L496.7 302.2L497.1 302.3L497.5 302.3L497.9 302.3L498.3 302.4L498.7 302.4L499.1 302.4L499.5 302.4L499.9 302.5L500.3 302.5L500.7 302.5L501.1 302.6L501.5 302.6L501.9 302.6L502.3 302.6L502.7 302.7L503.1 302.7L503.5 302.7L503.9 302.8L504.3 302.8L504.7 302.8L505.1 302.8L505.5 302.9L505.9 302.9L506.3 302.9L506.7 303.0L507.1 303.0L507.5 303.0L507.9 303.0L508.3 303.1L508.7 303.1L509.1 303.1L509.5 303.2L509.9 303.2L510.3 303.2L510.7 303.2L511.1 303.3L511.5 303.3L511.9 303.3L512.3 303.4L512.7 303.4L513.1 303.4L513.5 303.4L513.9 303.5L514.3 303.5L514.7 303.5L515.1 303.6L515.5 303.6L515.9 303.6L516.3 303.6L516.7 303.7L517.1 303.7L517.5 303.7L517.9 303.7L518.3 303.8L518.7 303.8L519.1 303.8L519.5 303.8L519.9 303.9L520.3 303.9L520.7 303.9L521.1 303.9L521.5 303.9L521.9 303.9L522.3 304.0" fill="none" stroke="#7e2f8e" stroke-width="2.9" stroke-linejoin="round" stroke-linecap="square"/>
<path d="M57.2 74.0L57.6 82.1L58.0 90.2L58.4 98.0L58.8 106.8L59.2 118.6L59.6 131.9L60.0 145.8L60.4 158.2L60.8 169.7L61.2 180.5L61.6 186.8L62.0 193.6L62.4 198.9L62.8 202.6L63.2 207.4L63.6 211.3L64.0 214.7L64.4 217.7L64.8 221.1L65.2 225.2L65.6 228.7L66.0 232.1L66.4 234.4L66.8 237.4L67.2 240.4L67.6 242.5L68.0 244.9L68.4 248.4L68.8 251.1L69.2 253.0L69.6 255.8L70.0 259.1L70.4 262.6L70.8 263.9L71.2 266.9L71.6 270.6L72.0 272.5L72.4 275.4L72.8 275.5L73.2 279.2L73.6 281.6L74.0 282.7L74.4 285.5L74.8 288.1L75.2 290.1L75.6 292.3L76.0 293.3L76.4 294.1L76.8 295.6L77.2 297.1L77.6 298.9L78.0 299.9L78.4 301.1L78.8 302.9L79.2 303.8L79.6 306.1L80.0 307.5L80.4 306.7L80.8 306.9L81.2 307.4L81.6 308.3L82.0 309.8L82.4 310.4L82.8 311.0L83.2 312.0L83.6 313.4L84.0 313.7L84.4 314.4L84.8 315.6L85.2 315.9L85.6 316.8L86.0 317.8L86.4 317.1L86.8 317.8L87.2 317.8L87.6 319.1L88.0 319.9L88.4 319.4L88.8 320.7L89.2 320.0L89.6 321.4L90.0 321.6L90.4 321.6L90.8 321.3L91.2 322.0L91.6 322.5L92.0 322.4L92.4 323.4L92.8 322.7L93.2 323.1L93.6 323.4L94.0 322.7L94.4 323.4L94.8 323.3L95.2 322.5L95.6 323.3L96.0 324.1L96.4 325.4L96.8 325.2L97.2 326.2L97.6 327.0L98.0 327.3L98.4 327.3L98.8 326.9L99.2 326.2L99.6 326.5L100.0 326.6L100.4 326.6L100.8 326.2L101.2 325.3L101.6 326.5L102.0 326.6L102.4 325.7L102.8 326.2L103.2 326.7L103.6 326.4L104.0 326.9L104.4 327.0L104.8 325.9L105.2 325.9L105.6 326.3L106.0 326.5L106.4 326.9L106.8 325.0L107.2 325.4L107.6 326.0L108.0 326.5L108.4 327.2L108.8 326.0L109.2 325.7L109.6 325.0L110.0 325.5L110.4 324.5L110.8 325.4L111.2 325.5L111.6 325.2L112.0 323.3L112.4 323.6L112.8 324.3L113.2 323.3L113.6 323.6L114.0 323.6L114.4 324.4L114.8 324.5L115.2 324.4L115.6 323.9L116.0 323.9L116.4 323.6L116.8 324.3L117.2 324.1L117.6 324.6L118.0 323.2L118.4 324.5L118.8 324.5L119.2 325.0L119.6 324.7L120.0 324.8L120.4 325.6L120.8 324.8L121.2 325.2L121.6 325.1L122.0 325.3L122.4 324.3L122.8 325.0L123.2 325.0L123.6 325.0L124.0 325.4L124.4 324.8L124.8 326.1L125.2 326.5L125.6 327.8L126.0 326.6L126.4 326.1L126.8 327.0L127.2 326.1L127.6 326.9L128.0 326.6L128.4 326.7L128.8 327.2L129.2 327.2L129.6 328.3L130.0 327.8L130.4 326.5L130.8 327.1L131.2 326.3L131.6 326.7L132.0 326.0L132.4 326.2L132.8 327.5L133.2 326.9L133.6 326.6L134.0 326.7L134.4 327.0L134.8 327.9L135.2 327.0L135.6 326.6L136.0 327.6L136.4 326.7L136.8 327.2L137.2 328.3L137.6 328.0L138.0 327.9L138.4 327.8L138.8 327.4L139.2 327.8L139.6 328.1L140.0 328.9L140.4 329.1L140.8 328.5L141.2 328.2L141.6 328.8L142.0 327.9L142.4 328.3L142.8 328.7L143.2 328.8L143.6 328.8L144.0 329.1L144.4 328.2L144.8 328.1L145.2 328.4L145.6 328.9L146.0 328.1L146.4 329.0L146.8 328.7L147.2 328.6L147.6 328.1L148.0 328.0L148.4 327.8L148.8 328.9L149.2 328.9L149.6 328.5L150.0 329.1L150.4 328.5L150.8 329.1L151.2 329.0L151.6 328.4L152.0 328.9L152.4 328.1L152.8 328.9L153.2 328.3L153.6 328.4L154.0 329.0L154.4 328.6L154.8 328.0L155.2 328.1L155.6 327.7L156.0 327.1L156.4 327.3L156.8 328.0L157.2 328.3L157.6 327.1L158.0 327.4L158.4 327.6L158.8 327.6L159.2 327.4L159.6 328.5L160.0 327.5L160.4 328.1L160.8 328.9L161.2 327.3L161.6 327.6L162.0 327.5L162.4 327.9L162.8 327.3L163.2 327.6L163.6 326.9L164.0 327.7L164.4 328.1L164.8 327.6L165.2 327.5L165.6 327.7L166.0 327.9L166.4 328.2L166.8 328.0L167.2 327.8L167.6 327.1L168.0 326.1L168.4 327.6L168.8 328.4L169.2 327.4L169.6 327.4L170.0 327.8L170.4 327.9L170.8 328.2L171.2 328.7L171.6 328.2L172.0 327.8L172.4 327.6L172.8 327.2L173.2 328.1L173.6 328.1L174.0 328.3L174.4 327.6L174.8 328.0L175.2 327.0L175.6 327.3L176.0 325.8L176.4 325.9L176.8 327.2L177.2 327.1L177.6 327.2L178.0 326.6L178.4 327.8L178.8 328.0L179.2 327.9L179.6 328.2L180.0 327.8L180.4 328.6L180.8 328.4L181.2 327.5L181.6 327.3L182.0 328.1L182.4 328.2L182.8 327.5L183.2 328.1L183.6 327.8L184.0 328.3L184.4 327.2L184.8 326.9L185.2 327.5L185.6 327.3L186.0 327.6L186.4 328.8L186.8 328.0L187.2 328.1L187.6 327.3L188.0 326.5L188.4 326.7L188.8 326.1L189.2 325.4L189.6 326.9L190.0 326.9L190.4 327.9L190.8 327.6L191.2 327.4L191.6 327.5L192.0 328.0L192.4 327.0L192.8 328.0L193.2 327.4L193.6 327.9L194.0 329.2L194.4 328.6L194.8 329.3L195.2 328.5L195.6 328.8L196.0 328.4L196.4 328.5L196.8 327.7L197.2 327.5L197.6 328.0L198.0 327.2L198.4 327.0L198.8 327.9L199.2 327.5L199.6 327.1L200.0 326.9L200.4 327.5L200.8 327.4L201.2 327.3L201.6 327.4L202.0 328.5L202.4 327.6L202.8 326.3L203.2 327.1L203.6 327.1L204.0 327.4L204.4 326.7L204.8 328.1L205.2 328.1L205.6 328.2L206.0 327.0L206.4 328.0L206.8 328.2L207.2 329.2L207.6 328.7L208.0 327.9L208.4 328.2L208.8 328.0L209.2 328.8L209.6 328.0L210.0 328.4L210.4 328.5L210.8 328.7L211.2 328.5L211.6 328.4L212.0 328.9L212.4 328.9L212.8 328.9L213.2 329.0L213.6 327.8L214.0 328.3L214.4 329.5L214.8 329.1L215.2 329.4L215.6 329.6L216.0 329.0L216.4 328.4L216.8 329.3L217.2 329.9L217.6 329.6L218.0 329.6L218.4 329.5L218.8 329.3L219.2 329.4L219.6 329.4L220.0 329.5L220.4 328.9L220.8 329.0L221.2 329.6L221.6 329.5L222.0 328.3L222.4 329.2L222.8 328.1L223.2 330.1L223.6 330.4L224.0 330.4L224.4 329.8L224.8 329.2L225.2 329.3L225.6 329.5L226.0 329.4L226.4 329.6L226.8 329.7L227.2 329.9L227.6 328.9L228.0 328.2L228.4 328.9L228.8 328.8L229.2 329.3L229.6 330.2L230.0 330.5L230.4 329.8L230.8 329.9L231.2 330.2L231.6 329.6L232.0 329.2L232.4 329.4L232.8 328.9L233.2 328.2L233.6 328.1L234.0 328.0L234.4 328.0L234.8 328.4L235.2 328.1L235.6 329.3L236.0 329.2L236.4 327.7L236.8 328.7L237.2 328.2L237.6 328.8L238.0 328.7L238.4 328.1L238.8 328.4L239.2 328.0L239.6 328.2L240.0 328.3L240.4 328.3L240.8 328.8L241.2 328.0L241.6 328.6L242.0 327.8L242.4 328.3L242.8 328.5L243.2 328.6L243.6 327.7L244.0 329.1L244.4 327.9L244.8 327.7L245.2 327.3L245.6 328.1L246.0 327.4L246.4 328.1L246.8 327.4L247.2 327.7L247.6 327.4L248.0 328.3L248.4 327.9L248.8 327.3L249.2 327.5L249.6 326.9L250.0 326.7L250.4 327.9L250.8 326.8L251.2 327.9L251.6 327.8L252.0 327.7L252.4 327.9L252.8 328.6L253.2 328.1L253.6 328.1L254.0 328.6L254.4 328.7L254.8 328.3L255.2 327.4L255.6 327.1L256.0 327.1L256.4 327.7L256.8 327.9L257.2 328.3L257.6 328.9L258.0 328.2L258.4 328.1L258.8 327.8L259.2 329.0L259.6 327.2L260.0 327.7L260.4 328.2L260.8 328.2L261.2 329.3L261.6 329.2L262.0 328.9L262.4 327.8L262.8 328.1L263.2 327.6L263.6 327.6L264.0 327.7L264.4 327.2L264.8 327.7L265.2 328.5L265.6 328.3L266.0 327.8L266.4 326.3L266.8 327.3L267.2 327.8L267.6 327.3L268.0 326.8L268.4 327.5L268.8 327.0L269.2 327.7L269.6 327.1L270.0 326.9L270.4 327.2L270.8 326.6L271.2 327.6L271.6 328.3L272.0 327.6L272.4 328.4L272.8 328.1L273.2 328.9L273.6 329.0L274.0 328.7L274.4 328.7L274.8 328.1L275.2 328.5L275.6 328.6L276.0 330.0L276.4 330.1L276.8 329.4L277.2 330.0L277.6 330.0L278.0 329.8L278.4 330.0L278.8 330.3L279.2 329.5L279.6 329.4L280.0 329.5L280.4 329.0L280.8 329.3L281.2 329.2L281.6 328.9L282.0 328.6L282.4 329.0L282.8 329.7L283.2 329.7L283.6 329.0L284.0 329.4L284.4 329.4L284.8 329.3L285.2 329.7L285.6 328.8L286.0 328.6L286.4 328.2L286.8 327.8L287.2 329.6L287.6 329.6L288.0 328.1L288.4 328.2L288.8 327.5L289.2 327.0L289.5 30.0L289.9 42.8L290.3 58.5L290.7 70.7L291.1 83.2L291.5 96.4L291.9 111.2L292.3 124.0L292.7 137.9L293.1 150.4L293.5 161.3L293.9 170.3L294.3 177.2L294.7 182.5L295.1 187.3L295.5 193.7L295.9 197.7L296.3 202.4L296.7 207.5L297.1 210.8L297.5 214.7L297.9 217.9L298.3 222.0L298.7 226.0L299.1 229.0L299.5 233.1L299.9 235.6L300.3 237.5L300.7 240.6L301.1 244.3L301.5 246.6L301.9 250.7L302.3 254.3L302.7 259.2L303.1 261.3L303.5 265.1L303.9 267.2L304.3 270.2L304.7 272.8L305.1 275.2L305.5 277.1L305.9 279.0L306.3 280.2L306.7 281.7L307.1 283.7L307.5 285.7L307.9 287.2L308.3 288.7L308.7 290.1L309.1 290.2L309.5 291.5L309.9 292.8L310.3 294.0L310.7 296.5L311.1 298.1L311.5 298.7L311.9 299.8L312.3 301.5L312.7 302.0L313.1 302.7L313.5 304.2L313.9 305.1L314.3 306.6L314.7 307.1L315.1 307.8L315.5 307.6L315.9 307.7L316.3 308.9L316.7 308.4L317.1 310.2L317.5 311.1L317.9 311.6L318.3 311.9L318.7 313.1L319.1 313.2L319.5 314.1L319.9 315.5L320.3 316.1L320.7 316.7L321.1 316.9L321.5 317.1L321.9 317.5L322.3 317.8L322.7 318.6L323.1 317.8L323.5 318.5L323.9 319.7L324.3 319.5L324.7 320.3L325.1 320.5L325.5 321.2L325.9 321.7L326.3 322.5L326.7 322.5L327.1 322.1L327.5 322.7L327.9 323.1L328.3 323.8L328.7 322.5L329.1 323.5L329.5 322.7L329.9 323.8L330.3 324.5L330.7 324.8L331.1 325.2L331.5 324.8L331.9 324.5L332.3 325.0L332.7 325.7L333.1 325.3L333.5 325.0L333.9 324.4L334.3 325.4L334.7 325.2L335.1 324.7L335.5 325.0L335.9 324.9L336.3 325.4L336.7 326.2L337.1 326.5L337.5 327.2L337.9 327.5L338.3 326.0L338.7 326.2L339.1 327.0L339.5 327.5L339.9 325.5L340.3 324.8L340.7 325.3L341.1 325.3L341.5 324.7L341.9 325.0L342.3 324.5L342.7 323.7L343.1 324.4L343.5 324.9L343.9 325.4L344.3 325.6L344.7 325.6L345.1 325.3L345.5 325.0L345.9 324.0L346.3 324.0L346.7 324.5L347.1 324.8L347.5 325.6L347.9 325.0L348.3 324.0L348.7 324.8L349.1 325.3L349.5 324.4L349.9 324.0L350.3 324.5L350.7 325.3L351.1 324.5L351.5 324.6L351.9 324.5L352.3 324.1L352.7 323.7L353.1 324.6L353.5 324.6L353.9 324.4L354.3 323.3L354.7 325.3L355.1 324.6L355.5 324.9L355.9 324.5L356.3 325.4L356.7 324.9L357.1 325.6L357.5 325.6L357.9 326.3L358.3 325.4L358.7 325.7L359.1 325.9L359.5 327.3L359.9 326.2L360.3 326.3L360.7 325.8L361.1 326.1L361.5 326.3L361.9 326.0L362.3 325.9L362.7 326.1L363.1 325.8L363.5 325.8L363.9 325.0L364.3 325.1L364.7 325.1L365.1 325.5L365.5 326.0L365.9 326.1L366.3 326.2L366.7 326.5L367.1 324.6L367.5 325.2L367.9 325.2L368.3 325.3L368.7 324.7L369.1 325.5L369.5 326.1L369.9 326.3L370.3 326.1L370.7 326.0L371.1 326.4L371.5 327.1L371.9 327.0L372.3 326.3L372.7 326.0L373.1 325.7L373.5 325.5L373.9 325.0L374.3 325.3L374.7 324.9L375.1 324.8L375.5 324.7L375.9 324.1L376.3 324.3L376.7 323.3L377.1 324.5L377.5 324.7L377.9 324.8L378.3 325.3L378.7 325.6L379.1 325.1L379.5 326.6L379.9 325.5L380.3 325.9L380.7 326.4L381.1 325.6L381.5 325.9L381.9 325.5L382.3 326.1L382.7 325.6L383.1 325.0L383.5 326.2L383.9 326.6L384.3 325.9L384.7 326.2L385.1 326.2L385.5 327.4L385.9 327.4L386.3 326.4L386.7 326.0L387.1 325.2L387.5 325.3L387.9 325.4L388.3 326.0L388.7 326.1L389.1 325.2L389.5 325.0L389.9 326.5L390.3 326.8L390.7 326.6L391.1 326.4L391.5 326.3L391.9 326.3L392.3 325.4L392.7 326.3L393.1 325.8L393.5 326.1L393.9 324.6L394.3 325.6L394.7 326.6L395.1 325.0L395.5 326.4L395.9 326.4L396.3 326.1L396.7 325.3L397.1 326.4L397.5 326.4L397.9 326.7L398.3 326.3L398.7 325.8L399.1 326.4L399.5 325.8L399.9 326.6L400.3 325.6L400.7 325.2L401.1 324.7L401.5 325.6L401.9 324.7L402.3 324.7L402.7 325.9L403.1 326.1L403.5 327.5L403.9 327.8L404.3 327.3L404.7 326.8L405.1 325.2L405.5 325.0L405.9 325.4L406.3 325.9L406.7 325.2L407.1 325.2L407.5 325.3L407.9 326.3L408.3 326.1L408.7 325.6L409.1 325.3L409.5 325.5L409.9 325.0L410.3 325.1L410.7 324.3L411.1 325.3L411.5 325.8L411.9 325.9L412.3 325.7L412.7 325.6L413.1 326.6L413.5 325.9L413.9 324.5L414.3 324.3L414.7 325.0L415.1 325.7L415.5 326.0L415.9 326.1L416.3 325.8L416.7 324.9L417.1 324.9L417.5 324.1L417.9 324.6L418.3 324.4L418.7 325.2L419.1 325.4L419.5 324.4L419.9 325.5L420.3 325.8L420.7 324.6L421.1 325.3L421.5 325.7L421.9 325.4L422.3 325.6L422.7 325.5L423.1 325.8L423.5 326.0L423.9 325.5L424.3 325.6L424.7 326.0L425.1 326.1L425.5 325.2L425.9 324.9L426.3 325.1L426.7 324.8L427.1 325.4L427.5 325.4L427.9 325.2L428.3 325.2L428.7 325.2L429.1 325.8L429.5 326.4L429.9 325.4L430.3 325.4L430.7 325.3L431.1 325.2L431.5 325.4L431.9 325.1L432.3 324.6L432.7 323.8L433.1 325.0L433.5 326.0L433.9 325.3L434.3 326.0L434.7 325.6L435.1 325.8L435.5 325.3L435.9 325.5L436.3 325.6L436.7 324.6L437.1 325.3L437.5 325.5L437.9 324.3L438.3 325.5L438.7 325.7L439.1 325.5L439.5 325.8L439.9 325.4L440.3 324.7L440.7 324.8L441.1 325.1L441.5 326.6L441.9 327.2L442.3 326.1L442.7 325.5L443.1 325.5L443.5 325.7L443.9 325.3L444.3 325.1L444.7 326.4L445.1 326.7L445.5 325.3L445.9 324.5L446.3 324.7L446.7 325.3L447.1 325.5L447.5 325.5L447.9 324.3L448.3 325.1L448.7 325.3L449.1 325.2L449.5 324.9L449.9 325.3L450.3 324.8L450.7 324.1L451.1 324.5L451.5 323.8L451.9 324.8L452.3 325.2L452.7 324.3L453.1 324.7L453.5 325.3L453.9 323.8L454.3 324.4L454.7 326.0L455.1 324.9L455.5 325.2L455.9 324.8L456.3 325.2L456.7 324.3L457.1 324.1L457.5 324.6L457.9 325.5L458.3 325.9L458.7 326.4L459.1 326.7L459.5 326.7L459.9 326.6L460.3 325.6L460.7 325.3L461.1 327.4L461.5 327.8L461.9 327.0L462.3 326.4L462.7 326.3L463.1 325.7L463.5 326.7L463.9 325.8L464.3 325.6L464.7 326.8L465.1 325.0L465.5 325.7L465.9 324.8L466.3 325.1L466.7 325.4L467.1 325.4L467.5 325.7L467.9 325.3L468.3 325.5L468.7 324.9L469.1 325.1L469.5 324.8L469.9 325.6L470.3 324.8L470.7 325.7L471.1 325.6L471.5 325.5L471.9 326.4L472.3 326.0L472.7 324.7L473.1 325.7L473.5 324.3L473.9 325.4L474.3 325.5L474.7 324.7L475.1 325.4L475.5 325.6L475.9 327.1L476.3 326.7L476.7 327.7L477.1 328.0L477.5 326.8L477.9 326.4L478.3 327.5L478.7 327.3L479.1 327.4L479.5 327.2L479.9 326.8L480.3 326.8L480.7 326.7L481.1 326.4L481.5 326.8L481.9 328.0L482.3 328.6L482.7 327.9L483.1 327.8L483.5 328.0L483.9 328.4L484.3 328.1L484.7 327.7L485.1 327.4L485.5 328.1L485.9 329.1L486.3 327.9L486.7 326.8L487.1 327.6L487.5 327.6L487.9 327.9L488.3 328.4L488.7 328.0L489.1 326.8L489.5 325.9L489.9 326.6L490.3 326.4L490.7 327.2L491.1 326.7L491.5 327.0L491.9 326.3L492.3 326.9L492.7 327.2L493.1 327.8L493.5 328.8L493.9 328.3L494.3 327.7L494.7 329.3L495.1 328.5L495.5 328.3L495.9 328.4L496.3 328.8L496.7 328.6L497.1 328.6L497.5 328.7L497.9 327.5L498.3 327.1L498.7 327.4L499.1 327.8L499.5 327.5L499.9 327.8L500.3 327.6L500.7 327.0L501.1 326.2L501.5 326.9L501.9 327.2L502.3 326.8L502.7 327.3L503.1 327.6L503.5 327.6L503.9 326.5L504.3 326.5L504.7 326.6L505.1 327.9L505.5 327.3L505.9 327.1L506.3 326.5L506.7 326.9L507.1 327.7L507.5 326.4L507.9 325.3L508.3 327.0L508.7 327.4L509.1 327.1L509.5 328.0L509.9 328.4L510.3 326.8L510.7 327.7L511.1 328.8L511.5 328.3L511.9 328.4L512.3 329.6L512.7 329.4L513.1 328.5L513.5 328.5L513.9 328.1L514.3 328.9L514.7 328.0L515.1 329.2L515.5 328.1L515.9 328.6L516.3 328.0L516.7 328.1L517.1 329.2L517.5 329.6L517.9 330.0L518.3 328.9L518.7 329.0L519.1 328.7L519.5 328.7L519.9 328.3L520.3 328.8L520.7 328.6L521.1 328.6L521.5 327.8L521.9 327.3L522.3 326.8" fill="none" stroke="#00ffff" stroke-width="3.2" stroke-linejoin="round" stroke-linecap="square"/>
<path d="M57.2 74.0L57.6 191.8L58.0 227.3L58.4 234.6L58.8 239.8L59.2 243.0L59.6 245.6L60.0 248.4L60.4 250.2L60.8 251.9L61.2 253.8L61.6 255.3L62.0 256.6L62.4 257.4L62.8 258.7L63.2 260.3L63.6 261.0L64.0 262.6L64.4 263.8L64.8 265.8L65.2 267.9L65.6 270.9L66.0 273.4L66.4 276.5L66.8 279.4L67.2 282.0L67.6 283.8L68.0 286.4L68.4 288.6L68.8 290.5L69.2 291.6L69.6 293.3L70.0 294.6L70.4 296.0L70.8 297.9L71.2 298.8L71.6 300.1L72.0 301.7L72.4 302.5L72.8 303.6L73.2 304.7L73.6 305.8L74.0 306.5L74.4 307.8L74.8 309.3L75.2 309.6L75.6 311.1L76.0 312.0L76.4 312.8L76.8 314.4L77.2 315.3L77.6 315.5L78.0 316.6L78.4 317.7L78.8 318.4L79.2 319.5L79.6 320.2L80.0 321.2L80.4 322.3L80.8 322.6L81.2 323.5L81.6 324.1L82.0 325.0L82.4 325.3L82.8 326.2L83.2 327.1L83.6 328.2L84.0 329.2L84.4 329.3L84.8 329.9L85.2 331.0L85.6 331.1L86.0 332.0L86.4 332.9L86.8 334.2L87.2 334.9L87.6 335.2L88.0 335.8L88.4 336.4L88.8 337.7L89.2 337.9L89.6 338.5L90.0 339.3L90.4 339.8L90.8 340.4L91.2 340.6L91.6 341.5L92.0 342.0L92.4 343.1L92.8 343.7L93.2 344.0L93.6 344.7L94.0 345.0L94.4 345.9L94.8 346.2L95.2 346.8L95.6 346.8L96.0 347.6M289.5 30.0L289.9 87.8L290.3 134.3L290.7 162.2L291.1 183.6L291.5 201.6L291.9 216.1L292.3 226.5L292.7 233.1L293.1 238.7L293.5 242.8L293.9 246.7L294.3 250.3L294.7 253.3L295.1 256.3L295.5 258.8L295.9 261.3L296.3 264.2L296.7 266.3L297.1 268.3L297.5 271.3L297.9 274.1L298.3 277.6L298.7 280.2L299.1 282.5L299.5 284.0L299.9 285.3L300.3 286.0L300.7 287.4L301.1 288.9L301.5 289.8L301.9 290.4L302.3 291.2L302.7 292.3L303.1 292.2L303.5 293.5L303.9 294.9L304.3 296.2L304.7 297.8L305.1 298.9L305.5 299.8L305.9 300.8L306.3 302.1L306.7 302.9L307.1 304.1L307.5 305.6L307.9 307.2L308.3 307.9L308.7 308.9L309.1 310.0L309.5 311.5L309.9 312.2L310.3 313.7L310.7 314.1L311.1 315.2L311.5 316.2L311.9 317.6L312.3 318.8L312.7 319.1L313.1 319.9L313.5 321.2L313.9 322.0L314.3 322.5L314.7 324.0L315.1 324.9L315.5 325.7L315.9 326.2L316.3 327.3L316.7 327.8L317.1 328.8L317.5 329.0L317.9 329.5L318.3 330.4L318.7 330.9L319.1 331.9L319.5 332.5L319.9 332.8L320.3 333.6L320.7 334.2L321.1 335.2L321.5 335.5L321.9 336.0L322.3 337.1L322.7 338.3L323.1 339.0L323.5 339.0L323.9 339.4L324.3 340.4L324.7 340.5L325.1 340.7L325.5 341.4L325.9 342.1L326.3 342.3L326.7 342.4L327.1 342.8L327.5 343.9L327.9 344.2L328.3 344.7L328.7 345.3L329.1 346.0L329.5 346.2L329.9 346.8L330.3 346.8L330.7 347.3L331.1 347.5L331.5 348.5L331.9 348.8L332.3 348.9L332.7 349.3L333.1 349.7L333.5 350.4L333.9 350.2L334.3 350.5L334.7 351.0L335.1 352.4L335.5 352.7L335.9 352.6L336.3 353.1L336.7 353.9L337.1 353.7L337.5 353.7L337.9 354.5L338.3 354.7L338.7 355.0L339.1 355.0L339.5 355.9L339.9 356.4L340.3 356.4L340.7 356.5L341.1 355.9L341.5 356.7L341.9 356.9L342.3 357.3L342.7 357.7L343.1 357.7L343.5 357.5L343.9 358.2L344.3 358.3L344.7 358.6L345.1 358.8L345.5 359.1L345.9 358.8L346.3 359.9L346.7 360.2L347.1 360.8L347.5 361.4L347.9 361.2L348.3 360.7L348.7 360.9L349.1 361.0L349.5 361.4L349.9 361.9L350.3 361.6L350.7 362.3L351.1 362.1L351.5 362.8L351.9 363.0" fill="none" stroke="#77ac30" stroke-width="4.0" stroke-linejoin="round" stroke-dasharray="13 5"/>
<path d="M95.6 346.8L96.0 347.6L96.4 347.5L96.8 347.7L97.2 348.6L97.6 349.1L98.0 349.9L98.4 351.1L98.8 350.9L99.2 351.1L99.6 351.7L100.0 352.3L100.4 352.6L100.8 352.9L101.2 353.5L101.6 353.9L102.0 353.8L102.4 354.3L102.8 354.7L103.2 354.7L103.6 355.3L104.0 355.3L104.4 356.1L104.8 356.4L105.2 356.6L105.6 356.7L106.0 357.0L106.4 356.7L106.8 357.0L107.2 357.8L107.6 357.4L108.0 358.4L108.4 358.1L108.8 358.9L109.2 358.8L109.6 359.5L110.0 359.6L110.4 359.3L110.8 360.2L111.2 360.7L111.6 360.5L112.0 360.5L112.4 360.6L112.8 360.5L113.2 361.2L113.6 361.1L114.0 361.3L114.4 361.2L114.8 361.3L115.2 361.3L115.6 362.1L116.0 362.1L116.4 362.6L116.8 362.5L117.2 362.3L117.6 362.5L118.0 362.5L118.4 362.8L118.8 362.9L119.2 363.0L119.6 362.7L120.0 362.9L120.4 363.8L120.8 363.5L121.2 363.3L121.6 363.7L122.0 364.2L122.4 363.6L122.8 363.8L123.2 363.8L123.6 363.4L124.0 364.1L124.4 364.2L124.8 364.3L125.2 364.1L125.6 364.5L126.0 364.4L126.4 364.5L126.8 364.2L127.2 364.1L127.6 365.0L128.0 364.7L128.4 364.9L128.8 364.9L129.2 364.8L129.6 364.8L130.0 365.2L130.4 365.0L130.8 365.1L131.2 365.1L131.6 365.6L132.0 365.6L132.4 365.5L132.8 365.2L133.2 364.8L133.6 365.5L134.0 365.7L134.4 365.5L134.8 365.6L135.2 365.8L135.6 365.9L136.0 365.9L136.4 365.5L136.8 366.0L137.2 365.4L137.6 365.8L138.0 365.8L138.4 366.0L138.8 366.4L139.2 366.4L139.6 365.6L140.0 365.1L140.4 365.7L140.8 365.4L141.2 365.6L141.6 366.0L142.0 365.3L142.4 364.9L142.8 365.5L143.2 365.7L143.6 365.7L144.0 365.8L144.4 365.5L144.8 365.2L145.2 365.5L145.6 365.4L146.0 365.1L146.4 365.7L146.8 365.7L147.2 365.8L147.6 365.4L148.0 365.3L148.4 365.2L148.8 365.1L149.2 365.4L149.6 365.2L150.0 365.4L150.4 365.5L150.8 366.0L151.2 365.1L151.6 365.5L152.0 365.2L152.4 365.2L152.8 364.6L153.2 364.7L153.6 365.1L154.0 364.9L154.4 364.9L154.8 364.7L155.2 365.1L155.6 364.8L156.0 364.0L156.4 364.1L156.8 363.7L157.2 363.1L157.6 363.8L158.0 364.6L158.4 364.5L158.8 364.0L159.2 363.9L159.6 364.5L160.0 364.4L160.4 364.4L160.8 364.3L161.2 364.3L161.6 364.6L162.0 364.6L162.4 364.5L162.8 364.0L163.2 364.4L163.6 364.1L164.0 364.6L164.4 364.0L164.8 364.2L165.2 364.3L165.6 363.9L166.0 364.7L166.4 365.0L166.8 364.5L167.2 364.7L167.6 364.6L168.0 363.6L168.4 364.2L168.8 364.3L169.2 364.4L169.6 364.1L170.0 364.2L170.4 364.3L170.8 364.8L171.2 364.7L171.6 364.6L172.0 365.0L172.4 364.5L172.8 364.4L173.2 363.9L173.6 364.8L174.0 365.0L174.4 365.0L174.8 365.0L175.2 364.8L175.6 364.8L176.0 364.6L176.4 364.6L176.8 364.6L177.2 365.2L177.6 365.1L178.0 364.8L178.4 364.6L178.8 364.5L179.2 365.2L179.6 365.1L180.0 364.9L180.4 364.7L180.8 364.4L181.2 364.7L181.6 365.1L182.0 364.8L182.4 364.8L182.8 364.8L183.2 364.9L183.6 364.4L184.0 364.7L184.4 364.6L184.8 365.1L185.2 364.8L185.6 365.1L186.0 365.5L186.4 365.1L186.8 364.9L187.2 365.0L187.6 365.1L188.0 364.8L188.4 365.1L188.8 365.8L189.2 365.3L189.6 365.1L190.0 364.8L190.4 365.1L190.8 364.7L191.2 364.7L191.6 365.4L192.0 365.0L192.4 365.5L192.8 365.8L193.2 365.5L193.6 365.5L194.0 366.0L194.4 365.5L194.8 365.2L195.2 364.8L195.6 365.1L196.0 365.7L196.4 365.7L196.8 365.2L197.2 365.0L197.6 365.0L198.0 365.3L198.4 365.2L198.8 365.3L199.2 365.4L199.6 365.2L200.0 365.3L200.4 365.4L200.8 365.3L201.2 365.5L201.6 366.0L202.0 365.8L202.4 365.5L202.8 364.8L203.2 365.2L203.6 364.7L204.0 364.6L204.4 365.3L204.8 365.5L205.2 365.3L205.6 364.8L206.0 365.0L206.4 364.9L206.8 365.4L207.2 366.0L207.6 365.7L208.0 365.2L208.4 364.9L208.8 365.1L209.2 365.2L209.6 364.9L210.0 365.2L210.4 364.9L210.8 365.5L211.2 365.7L211.6 365.8L212.0 365.4L212.4 365.5L212.8 365.3L213.2 365.2L213.6 365.1L214.0 364.8L214.4 364.6L214.8 365.3L215.2 365.2L215.6 365.3L216.0 365.6L216.4 364.9L216.8 364.9L217.2 365.2L217.6 365.4L218.0 365.2L218.4 365.6L218.8 365.5L219.2 365.0L219.6 364.9L220.0 365.4L220.4 365.5L220.8 364.8L221.2 365.5L221.6 365.6L222.0 365.8L222.4 365.4L222.8 365.2L223.2 364.9L223.6 366.0L224.0 365.5L224.4 365.9L224.8 365.3L225.2 365.4L225.6 364.8L226.0 365.0L226.4 365.5L226.8 365.0L227.2 365.5L227.6 365.5L228.0 365.0L228.4 365.0L228.8 365.0L229.2 365.2L229.6 365.1L230.0 364.9L230.4 365.1L230.8 364.9L231.2 364.7L231.6 365.1L232.0 365.5L232.4 364.9L232.8 365.1L233.2 365.0L233.6 364.9L234.0 365.4L234.4 365.2L234.8 365.7L235.2 365.2L235.6 365.4L236.0 365.3L236.4 365.0L236.8 365.4L237.2 365.3L237.6 365.5L238.0 365.4L238.4 365.0L238.8 365.1L239.2 365.3L239.6 365.6L240.0 365.1L240.4 365.2L240.8 364.7L241.2 365.3L241.6 364.9L242.0 364.6L242.4 365.0L242.8 365.5L243.2 364.9L243.6 364.8L244.0 364.9L244.4 364.8L244.8 365.2L245.2 365.0L245.6 364.9L246.0 365.3L246.4 365.1L246.8 365.3L247.2 365.0L247.6 364.8L248.0 364.5L248.4 365.6L248.8 365.3L249.2 365.4L249.6 365.3L250.0 365.4L250.4 365.3L250.8 365.9L251.2 365.2L251.6 364.8L252.0 364.8L252.4 364.7L252.8 365.3L253.2 365.6L253.6 365.1L254.0 364.8L254.4 365.0L254.8 365.6L255.2 364.5L255.6 365.2L256.0 364.9L256.4 365.5L256.8 365.0L257.2 365.1L257.6 364.7L258.0 364.8L258.4 365.5L258.8 365.7L259.2 365.3L259.6 365.0L260.0 364.6L260.4 364.9L260.8 365.1L261.2 365.2L261.6 365.2L262.0 364.9L262.4 365.1L262.8 365.2L263.2 365.7L263.6 366.1L264.0 365.6L264.4 365.2L264.8 365.2L265.2 365.1L265.6 365.0L266.0 365.1L266.4 364.9L266.8 365.3L267.2 365.3L267.6 365.4L268.0 365.3L268.4 365.1L268.8 364.9L269.2 365.1L269.6 365.0L270.0 365.3L270.4 365.3L270.8 364.9L271.2 365.1L271.6 364.8L272.0 364.9L272.4 365.0L272.8 364.5L273.2 365.0L273.6 365.2L274.0 365.2L274.4 365.1L274.8 365.1L275.2 364.9L275.6 365.1L276.0 365.0L276.4 365.2L276.8 364.9L277.2 365.2L277.6 365.3L278.0 365.3L278.4 365.1L278.8 365.4L279.2 364.8L279.6 365.3L280.0 365.4L280.4 365.4L280.8 365.5L281.2 365.2L281.6 365.2L282.0 365.4L282.4 365.5L282.8 365.4L283.2 364.9L283.6 365.3L284.0 365.7L284.4 365.8L284.8 365.6L285.2 364.9L285.6 365.4L286.0 365.3L286.4 364.5L286.8 365.1L287.2 364.7L287.6 364.7L288.0 364.8L288.4 365.4L288.8 365.3L289.2 365.3M351.9 363.0L352.3 363.1L352.7 363.3L353.1 363.4L353.5 363.5L353.9 363.2L354.3 363.7L354.7 364.6L355.1 365.1L355.5 365.1L355.9 364.9L356.3 364.5L356.7 365.0L357.1 364.8L357.5 364.7L357.9 364.6L358.3 364.7L358.7 364.7L359.1 364.8L359.5 364.5L359.9 364.6L360.3 365.6L360.7 365.2L361.1 365.0L361.5 365.2L361.9 365.4L362.3 364.9L362.7 365.0L363.1 365.4L363.5 365.4L363.9 365.4L364.3 365.8L364.7 365.3L365.1 365.4L365.5 365.2L365.9 365.8L366.3 364.9L366.7 365.0L367.1 365.1L367.5 365.5L367.9 365.7L368.3 366.0L368.7 365.2L369.1 365.6L369.5 365.4L369.9 365.3L370.3 365.6L370.7 365.2L371.1 364.7L371.5 365.1L371.9 364.9L372.3 365.1L372.7 365.5L373.1 365.6L373.5 366.1L373.9 365.7L374.3 365.1L374.7 365.1L375.1 365.1L375.5 365.0L375.9 365.5L376.3 365.3L376.7 364.8L377.1 365.5L377.5 365.5L377.9 365.7L378.3 365.6L378.7 365.8L379.1 365.7L379.5 366.0L379.9 365.9L380.3 365.8L380.7 365.8L381.1 365.2L381.5 365.4L381.9 365.4L382.3 365.6L382.7 365.2L383.1 365.9L383.5 365.8L383.9 365.3L384.3 364.9L384.7 365.2L385.1 365.4L385.5 365.3L385.9 365.5L386.3 365.4L386.7 365.7L387.1 365.4L387.5 365.5L387.9 365.9L388.3 366.5L388.7 365.7L389.1 365.5L389.5 365.3L389.9 365.7L390.3 365.3L390.7 365.3L391.1 365.5L391.5 365.2L391.9 365.1L392.3 365.3L392.7 364.8L393.1 364.8L393.5 365.2L393.9 365.5L394.3 365.5L394.7 365.0L395.1 365.2L395.5 365.7L395.9 365.8L396.3 365.7L396.7 365.3L397.1 365.7L397.5 365.5L397.9 365.2L398.3 365.2L398.7 365.9L399.1 365.8L399.5 366.0L399.9 365.6L400.3 365.9L400.7 365.5L401.1 365.5L401.5 366.4L401.9 366.2L402.3 365.7L402.7 365.6L403.1 365.7L403.5 366.0L403.9 365.6L404.3 365.0L404.7 365.3L405.1 365.5L405.5 365.6L405.9 366.0L406.3 365.9L406.7 366.0L407.1 365.4L407.5 365.8L407.9 366.4L408.3 366.1L408.7 365.9L409.1 365.8L409.5 366.2L409.9 365.6L410.3 365.5L410.7 365.7L411.1 365.9L411.5 365.6L411.9 365.7L412.3 365.5L412.7 365.6L413.1 365.6L413.5 365.2L413.9 365.4L414.3 365.8L414.7 365.4L415.1 365.4L415.5 365.7L415.9 365.3L416.3 365.5L416.7 365.2L417.1 365.8L417.5 366.4L417.9 366.6L418.3 365.9L418.7 366.0L419.1 365.8L419.5 365.7L419.9 366.1L420.3 365.4L420.7 365.9L421.1 365.7L421.5 366.1L421.9 365.9L422.3 365.5L422.7 365.6L423.1 365.9L423.5 365.7L423.9 365.8L424.3 365.5L424.7 364.9L425.1 365.6L425.5 365.8L425.9 365.7L426.3 365.7L426.7 366.0L427.1 365.6L427.5 365.4L427.9 365.4L428.3 365.9L428.7 365.3L429.1 365.9L429.5 365.5L429.9 365.2L430.3 365.8L430.7 365.7L431.1 365.2L431.5 365.3L431.9 365.8L432.3 366.1L432.7 365.6L433.1 365.7L433.5 365.9L433.9 365.5L434.3 365.7L434.7 365.6L435.1 365.4L435.5 365.4L435.9 365.5L436.3 365.6L436.7 365.4L437.1 365.4L437.5 365.9L437.9 365.8L438.3 366.0L438.7 366.1L439.1 366.0L439.5 366.5L439.9 365.7L440.3 365.9L440.7 365.6L441.1 366.2L441.5 366.4L441.9 365.3L442.3 365.2L442.7 365.6L443.1 365.9L443.5 365.9L443.9 365.7L444.3 365.8L444.7 365.9L445.1 365.7L445.5 366.0L445.9 365.0L446.3 365.6L446.7 365.3L447.1 365.8L447.5 365.6L447.9 365.3L448.3 365.6L448.7 365.3L449.1 365.2L449.5 364.9L449.9 365.3L450.3 365.6L450.7 365.9L451.1 365.7L451.5 366.0L451.9 365.8L452.3 365.6L452.7 365.8L453.1 366.0L453.5 365.7L453.9 365.5L454.3 365.5L454.7 365.6L455.1 365.3L455.5 365.8L455.9 365.6L456.3 365.7L456.7 365.4L457.1 365.6L457.5 365.7L457.9 365.5L458.3 366.2L458.7 366.0L459.1 366.3L459.5 366.2L459.9 365.6L460.3 365.5L460.7 365.7L461.1 365.7L461.5 365.6L461.9 365.5L462.3 365.0L462.7 365.3L463.1 364.8L463.5 365.4L463.9 365.3L464.3 365.2L464.7 365.4L465.1 365.6L465.5 365.1L465.9 364.9L466.3 365.0L466.7 364.7L467.1 364.9L467.5 365.8L467.9 365.4L468.3 365.7L468.7 365.2L469.1 365.5L469.5 365.5L469.9 365.5L470.3 365.8L470.7 366.2L471.1 365.9L471.5 365.8L471.9 365.4L472.3 365.7L472.7 365.6L473.1 365.8L473.5 365.7L473.9 366.2L474.3 365.2L474.7 365.3L475.1 365.8L475.5 365.6L475.9 365.3L476.3 365.4L476.7 365.1L477.1 365.4L477.5 366.3L477.9 366.3L478.3 365.5L478.7 365.3L479.1 365.3L479.5 365.8L479.9 365.4L480.3 365.3L480.7 365.8L481.1 365.9L481.5 365.6L481.9 365.2L482.3 365.0L482.7 365.1L483.1 364.7L483.5 365.5L483.9 365.3L484.3 365.7L484.7 366.2L485.1 366.2L485.5 365.5L485.9 365.8L486.3 366.1L486.7 365.5L487.1 365.3L487.5 365.4L487.9 365.0L488.3 365.8L488.7 364.9L489.1 365.0L489.5 365.3L489.9 365.4L490.3 365.6L490.7 365.7L491.1 365.6L491.5 365.9L491.9 365.1L492.3 365.4L492.7 365.3L493.1 365.5L493.5 365.6L493.9 365.3L494.3 365.3L494.7 365.7L495.1 365.8L495.5 365.4L495.9 366.2L496.3 366.6L496.7 365.5L497.1 365.7L497.5 366.4L497.9 366.2L498.3 365.9L498.7 365.7L499.1 365.4L499.5 365.5L499.9 365.4L500.3 365.7L500.7 365.5L501.1 365.4L501.5 365.1L501.9 365.4L502.3 365.2L502.7 365.4L503.1 365.9L503.5 365.8L503.9 365.8L504.3 365.8L504.7 365.7L505.1 365.6L505.5 365.5L505.9 365.8L506.3 365.3L506.7 365.9L507.1 365.7L507.5 365.4L507.9 365.4L508.3 365.3L508.7 365.5L509.1 365.3L509.5 365.9L509.9 365.5L510.3 364.8L510.7 365.1L511.1 364.7L511.5 365.2L511.9 365.8L512.3 365.9L512.7 365.3L513.1 365.2L513.5 366.0L513.9 365.9L514.3 365.7L514.7 366.0L515.1 366.5L515.5 366.4L515.9 366.0L516.3 365.9L516.7 365.9L517.1 365.5L517.5 365.2L517.9 365.5L518.3 365.2L518.7 365.4L519.1 365.6L519.5 366.3L519.9 365.6L520.3 365.6L520.7 365.5L521.1 365.7L521.5 365.9L521.9 365.6L522.3 365.6" fill="none" stroke="#77ac30" stroke-width="4.0" stroke-linejoin="round" stroke-linecap="square"/>
<path d="M57.7 73.0L58.1 184.1L58.5 212.7L58.9 223.5L59.3 230.2L59.7 235.7L60.1 240.6L60.5 248.6L60.9 257.3L61.3 266.6L61.7 273.9L62.1 279.4L62.5 282.2L62.9 284.5L63.3 286.7L63.7 288.2L64.1 289.9L64.5 291.3L64.9 292.8L65.3 293.9L65.7 294.5L66.1 295.7L66.5 296.9L66.9 297.9L67.3 299.7L67.7 300.9L68.1 302.2L68.5 302.9L68.9 303.9L69.3 305.3L69.7 305.8L70.1 307.0L70.5 308.0L70.9 308.9L71.3 309.8L71.7 310.4L72.1 311.5L72.5 312.2L72.9 313.0L73.3 314.4L73.7 314.9L74.1 315.3L74.5 316.7L74.9 317.3L75.3 317.4L75.7 318.7L76.1 320.0L76.5 321.0L76.9 322.3L77.3 322.8L77.7 323.7L78.1 324.1L78.5 325.0L78.9 326.2L79.3 326.9L79.7 327.7L80.1 327.9L80.5 328.7L80.9 329.4L81.3 330.6L81.7 331.1L82.1 332.1L82.5 332.4L82.9 333.8L83.3 333.9L83.7 334.6L84.1 336.0L84.5 336.4L84.9 336.6L85.3 337.4L85.7 338.2L86.1 338.9L86.5 338.8L86.9 339.6L87.3 339.7L87.7 341.1L88.1 341.5L88.5 341.9L88.9 342.6L89.3 343.2L89.7 343.3L90.1 344.4L90.5 344.8L90.9 344.8L91.3 346.0L91.7 346.8L92.1 347.4L92.5 347.7L92.9 347.6L93.3 348.2L93.7 349.1L94.1 349.5L94.5 350.1L94.9 350.1L95.3 350.7L95.7 351.2L96.1 351.0L96.5 351.0L96.9 351.6L97.3 352.3L97.7 352.9L98.1 353.2L98.5 353.7L98.9 354.2L99.3 354.6L99.7 355.2L100.1 355.7L100.5 355.9L100.9 356.3L101.3 356.5L101.7 357.1L102.1 357.3L102.5 358.2L102.9 358.4L103.3 358.6L103.7 358.7L104.1 359.1L104.5 359.5L104.9 359.8L105.3 359.9L105.7 359.9L106.1 360.5L106.5 360.9L106.9 361.4L107.3 361.9L107.7 361.9L108.1 361.5L108.5 362.0L108.9 361.9L109.3 362.1L109.7 362.9L110.1 363.3L110.5 363.4L110.9 363.4L111.3 363.7L111.7 363.5L112.1 364.2L112.5 364.4L112.9 365.1L113.3 364.8L113.7 365.2L114.1 365.1L114.5 365.5L114.9 365.4L115.3 365.8L115.7 365.9L116.1 366.0L116.5 366.2L116.9 366.5L117.3 366.7L117.7 367.2L118.1 367.3L118.5 366.5L118.9 366.8L119.3 366.6L119.7 366.9L120.1 367.4L120.5 367.2L120.9 367.3L121.3 367.7L121.7 367.8L122.1 368.5L122.5 368.5L122.9 368.6L123.3 369.1L123.7 368.8L124.1 368.9L124.5 368.6L124.9 369.0L125.3 369.3L125.7 369.6L126.1 369.6L126.5 369.5L126.9 369.3L127.3 369.2L127.7 369.5L128.1 370.0L128.5 369.3L128.9 369.1L129.3 370.0L129.7 369.7L130.1 370.1L130.5 369.9L130.9 370.5L131.3 370.7L131.7 370.7L132.1 370.9L132.5 370.9L132.9 371.1L133.3 371.4L133.7 371.5L134.1 371.2L134.5 371.0L134.9 371.1L135.3 371.2L135.7 371.4L136.1 371.4L136.5 371.7L136.9 371.6L137.3 371.8L137.7 371.8L138.1 372.1L138.5 371.6L138.9 372.3L139.3 372.2L139.7 372.2L140.1 372.3L140.5 372.4L140.9 372.4L141.3 372.2L141.7 372.0L142.1 371.5L142.5 371.6L142.9 371.6L143.3 371.5L143.7 372.2L144.1 371.4L144.5 371.5L144.9 371.7L145.3 371.8L145.7 371.9L146.1 371.1L146.5 370.9L146.9 370.9L147.3 370.7L147.7 371.2L148.1 370.9L148.5 370.8L148.9 370.8L149.3 370.6L149.7 370.6L150.1 370.4L150.5 370.4L150.9 370.3L151.3 370.5L151.7 370.1L152.1 370.1L152.5 370.5L152.9 370.5L153.3 370.3L153.7 370.5L154.1 370.3L154.5 371.2L154.9 370.7L155.3 371.2L155.7 370.9L156.1 371.0L156.5 370.9L156.9 370.9L157.3 371.3L157.7 371.3L158.1 371.1L158.5 370.8L158.9 371.4L159.3 371.5L159.7 371.2L160.1 371.0L160.5 371.1L160.9 371.1L161.3 371.5L161.7 371.0L162.1 371.1L162.5 371.0L162.9 371.5L163.3 371.9L163.7 371.6L164.1 371.6L164.5 371.9L164.9 371.5L165.3 371.3L165.7 371.6L166.1 371.7L166.5 371.5L166.9 371.9L167.3 371.8L167.7 371.2L168.1 371.5L168.5 371.5L168.9 372.0L169.3 371.8L169.7 371.8L170.1 371.8L170.5 371.8L170.9 371.4L171.3 371.6L171.7 371.6L172.1 372.1L172.5 372.6L172.9 371.9L173.3 371.6L173.7 371.5L174.1 371.6L174.5 371.5L174.9 371.6L175.3 371.9L175.7 371.4L176.1 371.1L176.5 371.0L176.9 371.7L177.3 372.2L177.7 371.6L178.1 371.3L178.5 371.5L178.9 372.0L179.3 372.2L179.7 372.1L180.1 372.2L180.5 372.2L180.9 371.8L181.3 372.2L181.7 372.0L182.1 371.6L182.5 371.6L182.9 371.3L183.3 371.6L183.7 372.0L184.1 371.7L184.5 372.1L184.9 372.5L185.3 372.3L185.7 371.8L186.1 371.7L186.5 371.7L186.9 371.4L187.3 371.3L187.7 371.4L188.1 371.5L188.5 371.7L188.9 371.4L189.3 372.1L189.7 372.2L190.1 372.3L190.5 371.9L190.9 372.4L191.3 372.0L191.7 372.4L192.1 372.4L192.5 371.9L192.9 371.8L193.3 372.2L193.7 372.2L194.1 371.9L194.5 371.9L194.9 371.9L195.3 371.6L195.7 371.6L196.1 371.4L196.5 371.5L196.9 371.7L197.3 371.5L197.7 371.7L198.1 371.8L198.5 371.9L198.9 372.1L199.3 372.2L199.7 372.2L200.1 372.1L200.5 371.9L200.9 372.0L201.3 371.7L201.7 371.8L202.1 372.1L202.5 372.1L202.9 372.1L203.3 371.9L203.7 372.3L204.1 372.0L204.5 372.1L204.9 372.0L205.3 372.3L205.7 372.1L206.1 371.8L206.5 371.5L206.9 371.6L207.3 371.5L207.7 371.8L208.1 372.3L208.5 371.7L208.9 371.6L209.3 371.8L209.7 372.3L210.1 372.2L210.5 372.3L210.9 372.3L211.3 372.3L211.7 372.6L212.1 372.4L212.5 371.9L212.9 371.8L213.3 371.9L213.7 371.7L214.1 371.7L214.5 371.7L214.9 371.6L215.3 371.9L215.7 371.8L216.1 371.6L216.5 371.6L216.9 371.7L217.3 372.3L217.7 372.2L218.1 372.4L218.5 372.3L218.9 371.5L219.3 371.8L219.7 371.6L220.1 371.4L220.5 371.3L220.9 372.1L221.3 371.5L221.7 371.6L222.1 372.1L222.5 372.1L222.9 371.6L223.3 371.8L223.7 371.7L224.1 371.8L224.5 372.0L224.9 371.8L225.3 371.7L225.7 372.2L226.1 371.5L226.5 371.6L226.9 371.8L227.3 371.5L227.7 371.6L228.1 371.4L228.5 371.7L228.9 371.7L229.3 372.0L229.7 372.3L230.1 372.1L230.5 371.9L230.9 372.0L231.3 372.0L231.7 371.7L232.1 372.2L232.5 372.2L232.9 372.3L233.3 371.8L233.7 372.1L234.1 372.6L234.5 372.6L234.9 371.8L235.3 371.9L235.7 371.9L236.1 372.1L236.5 372.0L236.9 372.1L237.3 371.9L237.7 371.9L238.1 371.7L238.5 371.8L238.9 372.1L239.3 371.9L239.7 372.0L240.1 371.8L240.5 371.8L240.9 371.9L241.3 372.2L241.7 371.8L242.1 372.1L242.5 371.6L242.9 371.8L243.3 372.1L243.7 372.2L244.1 371.9L244.5 371.7L244.9 372.1L245.3 371.8L245.7 372.2L246.1 372.0L246.5 372.0L246.9 372.6L247.3 372.8L247.7 372.6L248.1 371.9L248.5 372.0L248.9 371.9L249.3 371.9L249.7 372.3L250.1 371.7L250.5 372.0L250.9 372.0L251.3 371.7L251.7 372.4L252.1 371.9L252.5 372.0L252.9 372.0L253.3 371.5L253.7 371.5L254.1 371.6L254.5 372.1L254.9 372.4L255.3 372.4L255.7 372.4L256.1 371.8L256.5 372.1L256.9 372.1L257.3 372.5L257.7 372.8L258.1 373.3L258.5 373.1L258.9 372.9L259.3 372.4L259.7 372.4L260.1 372.1L260.5 372.4L260.9 372.0L261.3 372.0L261.7 371.9L262.1 372.0L262.5 372.2L262.9 372.0L263.3 372.1L263.7 371.8L264.1 372.5L264.5 372.2L264.9 372.5L265.3 372.9L265.7 371.8L266.1 371.6L266.5 371.8L266.9 372.2L267.3 372.1L267.7 372.1L268.1 371.9L268.5 372.2L268.9 371.7L269.3 372.1L269.7 371.2L270.1 371.1L270.5 372.1L270.9 372.1L271.3 371.9L271.7 372.5L272.1 372.6L272.5 372.7L272.9 372.3L273.3 372.3L273.7 372.4L274.1 371.8L274.5 372.1L274.9 372.0L275.3 372.3L275.7 372.6L276.1 372.2L276.5 372.0L276.9 372.2L277.3 372.3L277.7 372.1L278.1 372.0L278.5 372.2L278.9 372.3L279.3 372.5L279.7 372.3L280.1 371.9L280.5 371.5L280.9 372.0L281.3 371.9L281.7 371.9L282.1 371.9L282.5 371.5L282.9 371.6L283.3 371.0L283.7 371.4L284.1 371.5L284.5 372.2L284.9 372.3L285.3 372.0L285.7 371.9L286.1 372.0L286.5 371.7L286.9 371.6L287.3 371.6L287.7 372.3L288.1 372.1L288.5 371.7L288.9 372.0L289.3 372.0L289.5 31.0L289.9 87.6L290.3 133.5L290.7 163.2L291.1 185.4L291.5 203.0L291.9 217.4L292.3 231.0L292.7 242.2L293.1 252.4L293.5 261.2L293.9 267.6L294.3 271.8L294.7 275.6L295.1 278.2L295.5 280.8L295.9 282.3L296.3 284.2L296.7 285.8L297.1 286.8L297.5 288.7L297.9 289.2L298.3 290.6L298.7 291.3L299.1 292.3L299.5 293.1L299.9 294.8L300.3 295.8L300.7 297.0L301.1 297.8L301.5 298.6L301.9 299.5L302.3 300.2L302.7 301.3L303.1 302.2L303.5 303.0L303.9 303.5L304.3 304.5L304.7 305.6L305.1 306.3L305.5 307.4L305.9 308.2L306.3 308.6L306.7 309.3L307.1 310.1L307.5 311.0L307.9 311.8L308.3 312.9L308.7 313.3L309.1 313.6L309.5 314.7L309.9 315.4L310.3 316.2L310.7 317.6L311.1 318.5L311.5 319.0L311.9 319.7L312.3 320.1L312.7 320.9L313.1 321.2L313.5 321.6L313.9 322.2L314.3 323.5L314.7 324.4L315.1 324.6L315.5 325.4L315.9 325.8L316.3 326.6L316.7 327.0L317.1 327.8L317.5 328.3L317.9 328.7L318.3 329.3L318.7 330.0L319.1 330.4L319.5 330.6L319.9 331.8L320.3 332.2L320.7 332.4L321.1 332.6L321.5 332.7L321.9 333.7L322.3 335.0L322.7 335.1L323.1 335.8L323.5 336.0L323.9 337.1L324.3 337.8L324.7 338.3L325.1 339.3L325.5 340.0L325.9 340.5L326.3 340.5L326.7 340.5L327.1 340.8L327.5 341.0L327.9 342.2L328.3 342.5L328.7 343.0L329.1 343.3L329.5 344.2L329.9 344.1L330.3 344.8L330.7 345.2L331.1 345.3L331.5 345.2L331.9 346.1L332.3 346.3L332.7 346.7L333.1 347.3L333.5 347.8L333.9 348.5L334.3 348.5L334.7 349.0L335.1 349.3L335.5 349.6L335.9 350.1L336.3 350.3L336.7 351.0L337.1 351.0L337.5 351.0L337.9 351.6L338.3 352.4L338.7 352.5L339.1 352.7L339.5 353.1L339.9 353.6L340.3 353.8L340.7 354.2L341.1 353.9L341.5 355.0L341.9 355.3L342.3 355.3L342.7 356.0L343.1 356.2L343.5 356.9L343.9 356.5L344.3 357.3L344.7 357.3L345.1 356.9L345.5 357.5L345.9 357.7L346.3 357.7L346.7 358.0L347.1 357.9L347.5 358.6L347.9 358.9L348.3 359.2L348.7 359.9L349.1 360.0L349.5 359.8L349.9 359.9L350.3 360.3L350.7 360.9L351.1 360.9L351.5 360.9L351.9 361.5L352.3 361.6L352.7 361.8L353.1 362.6L353.5 362.2L353.9 362.5L354.3 362.2L354.7 362.5L355.1 363.1L355.5 363.6L355.9 363.3L356.3 363.7L356.7 364.1L357.1 364.1L357.5 364.9L357.9 364.7L358.3 364.5L358.7 364.9L359.1 364.5L359.5 365.2L359.9 365.7L360.3 365.6L360.7 365.9L361.1 366.1L361.5 366.6L361.9 366.3L362.3 366.0L362.7 365.7L363.1 366.1L363.5 366.1L363.9 366.6L364.3 367.1L364.7 367.2L365.1 367.2L365.5 367.8L365.9 367.8L366.3 368.0L366.7 368.4L367.1 368.1L367.5 368.1L367.9 369.0L368.3 368.9L368.7 368.6L369.1 368.7L369.5 368.8L369.9 368.7L370.3 368.9L370.7 369.1L371.1 369.3L371.5 369.4L371.9 369.0L372.3 368.8L372.7 369.4L373.1 369.4L373.5 369.9L373.9 370.0L374.3 369.6L374.7 369.9L375.1 369.7L375.5 369.9L375.9 370.4L376.3 370.9L376.7 370.5L377.1 370.6L377.5 370.6L377.9 370.7L378.3 369.9L378.7 370.2L379.1 370.5L379.5 370.6L379.9 370.4L380.3 370.9L380.7 371.1L381.1 371.1L381.5 370.9L381.9 370.9L382.3 371.0L382.7 371.3L383.1 371.6L383.5 371.3L383.9 371.0L384.3 370.9L384.7 371.4L385.1 371.4L385.5 371.5L385.9 371.6L386.3 371.7L386.7 371.6L387.1 371.3L387.5 371.3L387.9 371.4L388.3 371.5L388.7 371.4L389.1 371.3L389.5 371.8L389.9 371.6L390.3 371.7L390.7 371.5L391.1 371.4L391.5 371.1L391.9 371.3L392.3 371.3L392.7 371.7L393.1 371.4L393.5 371.5L393.9 371.8L394.3 371.6L394.7 371.7L395.1 371.8L395.5 371.3L395.9 371.4L396.3 371.4L396.7 372.0L397.1 372.0L397.5 372.2L397.9 372.5L398.3 372.2L398.7 372.2L399.1 372.2L399.5 372.1L399.9 372.4L400.3 372.5L400.7 372.5L401.1 372.4L401.5 372.1L401.9 371.9L402.3 371.9L402.7 371.5L403.1 371.8L403.5 372.1L403.9 372.0L404.3 371.8L404.7 371.9L405.1 372.0L405.5 372.1L405.9 372.5L406.3 372.0L406.7 372.1L407.1 372.1L407.5 372.0L407.9 371.9L408.3 371.6L408.7 371.7L409.1 371.9L409.5 372.2L409.9 371.9L410.3 372.0L410.7 372.0L411.1 372.2L411.5 372.0L411.9 372.1L412.3 372.1L412.7 371.7L413.1 371.7L413.5 371.3L413.9 370.9L414.3 371.1L414.7 370.9L415.1 371.4L415.5 371.7L415.9 371.6L416.3 371.6L416.7 371.7L417.1 371.6L417.5 371.6L417.9 371.6L418.3 371.5L418.7 371.3L419.1 371.3L419.5 371.6L419.9 371.5L420.3 371.8L420.7 371.7L421.1 372.0L421.5 371.5L421.9 371.4L422.3 371.6L422.7 371.7L423.1 371.7L423.5 372.2L423.9 372.0L424.3 372.0L424.7 371.7L425.1 372.2L425.5 372.2L425.9 372.1L426.3 371.6L426.7 371.8L427.1 371.8L427.5 371.9L427.9 372.1L428.3 371.8L428.7 372.0L429.1 372.2L429.5 372.1L429.9 371.9L430.3 371.7L430.7 371.7L431.1 371.5L431.5 372.1L431.9 372.1L432.3 371.8L432.7 371.9L433.1 371.7L433.5 371.0L433.9 371.9L434.3 372.3L434.7 371.8L435.1 371.7L435.5 371.9L435.9 371.8L436.3 371.6L436.7 371.5L437.1 371.7L437.5 371.7L437.9 371.9L438.3 371.8L438.7 371.7L439.1 371.8L439.5 371.4L439.9 372.1L440.3 371.6L440.7 371.7L441.1 371.9L441.5 372.1L441.9 372.1L442.3 372.4L442.7 371.8L443.1 371.8L443.5 371.9L443.9 371.7L444.3 371.7L444.7 372.1L445.1 371.8L445.5 371.6L445.9 371.6L446.3 371.6L446.7 371.8L447.1 371.8L447.5 371.9L447.9 371.9L448.3 372.0L448.7 372.3L449.1 371.8L449.5 372.3L449.9 372.0L450.3 372.1L450.7 372.1L451.1 371.9L451.5 371.4L451.9 372.0L452.3 371.6L452.7 371.6L453.1 372.1L453.5 372.1L453.9 372.5L454.3 372.6L454.7 372.5L455.1 372.3L455.5 372.3L455.9 371.8L456.3 371.9L456.7 371.9L457.1 371.7L457.5 371.9L457.9 371.5L458.3 371.9L458.7 372.2L459.1 371.7L459.5 371.8L459.9 372.3L460.3 372.2L460.7 371.7L461.1 371.5L461.5 371.9L461.9 372.3L462.3 371.8L462.7 371.8L463.1 371.6L463.5 371.6L463.9 371.8L464.3 371.8L464.7 371.7L465.1 372.4L465.5 372.1L465.9 372.0L466.3 372.3L466.7 372.1L467.1 371.9L467.5 372.1L467.9 371.8L468.3 372.0L468.7 372.2L469.1 372.3L469.5 372.1L469.9 371.9L470.3 371.4L470.7 371.5L471.1 371.6L471.5 371.9L471.9 371.8L472.3 371.5L472.7 371.3L473.1 371.5L473.5 371.5L473.9 371.9L474.3 371.8L474.7 371.6L475.1 371.6L475.5 371.5L475.9 371.6L476.3 371.0L476.7 370.9L477.1 370.9L477.5 371.4L477.9 371.5L478.3 371.6L478.7 372.0L479.1 371.7L479.5 372.1L479.9 372.1L480.3 371.9L480.7 372.4L481.1 372.0L481.5 371.8L481.9 372.0L482.3 372.3L482.7 372.2L483.1 371.7L483.5 371.9L483.9 372.1L484.3 372.9L484.7 373.0L485.1 372.7L485.5 372.1L485.9 372.3L486.3 372.0L486.7 372.2L487.1 372.2L487.5 372.1L487.9 372.2L488.3 372.0L488.7 372.0L489.1 372.5L489.5 372.5L489.9 372.1L490.3 371.9L490.7 372.2L491.1 372.4L491.5 372.6L491.9 372.8L492.3 372.6L492.7 372.1L493.1 372.7L493.5 372.8L493.9 372.7L494.3 372.7L494.7 372.0L495.1 372.0L495.5 371.9L495.9 372.3L496.3 372.0L496.7 372.1L497.1 372.4L497.5 372.4L497.9 372.1L498.3 372.5L498.7 372.0L499.1 372.1L499.5 372.0L499.9 372.1L500.3 371.9L500.7 371.7L501.1 371.9L501.5 371.6L501.9 371.9L502.3 371.9L502.7 372.2L503.1 372.0L503.5 371.8L503.9 372.0L504.3 372.2L504.7 371.6L505.1 371.8L505.5 372.1L505.9 371.6L506.3 371.5L506.7 371.9L507.1 371.7L507.5 371.6L507.9 372.1L508.3 371.7L508.7 371.5L509.1 371.1L509.5 371.1L509.9 371.1L510.3 371.8L510.7 372.2L511.1 371.6L511.5 372.1L511.9 372.1L512.3 371.8L512.7 371.9L513.1 371.8L513.5 371.4L513.9 371.0L514.3 371.0L514.7 371.3L515.1 371.4L515.5 371.3L515.9 371.7L516.3 371.4L516.7 371.7L517.1 371.5L517.5 371.6L517.9 371.3L518.3 371.4L518.7 371.3L519.1 371.0L519.5 371.3L519.9 371.5L520.3 371.7L520.7 371.8L521.1 371.6L521.5 371.7L521.9 371.6L522.3 372.0" fill="none" stroke="#000000" stroke-width="4.8" stroke-linejoin="round" stroke-linecap="square"/>
</g>
<g>
<rect x="392.5" y="24.5" width="118.0" height="145.0" fill="#fff" stroke="#262626" stroke-width="1"/><path d="M396.9 34.9H439.8" stroke="#ff0000" stroke-width="3.0"/><text x="443.0" y="40.5" style="font-size:12.9px">AP(K=1)</text><path d="M396.9 52.6H439.8" stroke="#00ff00" stroke-width="3.0"/><text x="443.0" y="58.1" style="font-size:12.9px">AP(K=8)</text><path d="M396.9 70.3H439.8" stroke="#ff00ff" stroke-width="3.0"/><text x="443.0" y="75.7" style="font-size:12.9px">CAP</text><path d="M396.9 88.0H439.8" stroke="#0000ff" stroke-width="3.0"/><text x="443.0" y="93.3" style="font-size:12.9px">CAP<tspan dx="1.9" dy="-0.5" style="font-size:11.3px">−</tspan><tspan dx="3.7" dy="0.5">WF</tspan></text><path d="M396.9 105.7H439.8" stroke="#7e2f8e" stroke-width="3.0"/><text x="443.0" y="110.9" style="font-size:12.9px">VSS<tspan dx="1.9" dy="-0.5" style="font-size:11.3px">−</tspan><tspan dx="3.7" dy="0.5">AP</tspan></text><path d="M396.9 123.3H439.8" stroke="#00ffff" stroke-width="3.0"/><text x="443.0" y="128.5" style="font-size:12.9px">EAP</text><path d="M396.9 141.0H439.8" stroke="#77ac30" stroke-width="4.4" stroke-dasharray="17.1 4.2 8.3 4.6 8.7 50"/><text x="443.0" y="146.1" style="font-size:12.9px">AP<tspan dx="1.9" dy="-0.5" style="font-size:11.3px">−</tspan><tspan dx="3.7" dy="0.5">NLMS</tspan></text><path d="M396.9 158.7H439.8" stroke="#000000" stroke-width="4.6"/><text x="443.0" y="163.7" style="font-size:12.9px">Proposed</text>
</g>
</svg>
</body></html>
